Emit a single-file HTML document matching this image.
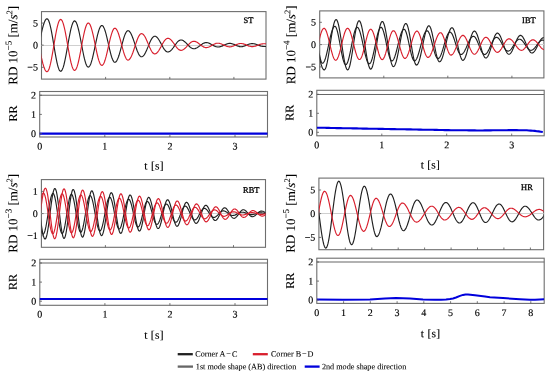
<!DOCTYPE html>
<html><head><meta charset="utf-8"><title>Figure</title>
<style>
html,body{margin:0;padding:0;background:#fff;}
body{width:550px;height:375px;overflow:hidden;}
svg{display:block;}
text{font-family:"Liberation Serif","Times New Roman",serif;fill:#000;stroke:#000;stroke-width:0.15px;}
</style></head><body>
<svg width="550" height="375" viewBox="0 0 550 375">
<defs><clipPath id="c1"><rect x="41.5" y="11.6" width="224.5" height="67.5"/></clipPath><clipPath id="c2"><rect x="39.7" y="91.5" width="227.8" height="45.5"/></clipPath><clipPath id="c3"><rect x="319.7" y="10.9" width="224.2" height="67"/></clipPath><clipPath id="c4"><rect x="316.8" y="90.3" width="227.4" height="45.5"/></clipPath><clipPath id="c5"><rect x="41.4" y="179.6" width="224.1" height="67.7"/></clipPath><clipPath id="c6"><rect x="39.8" y="259.3" width="227.7" height="46"/></clipPath><clipPath id="c7"><rect x="318.9" y="178.1" width="224.7" height="71.6"/></clipPath><clipPath id="c8"><rect x="316.8" y="258.2" width="227.4" height="45.2"/></clipPath></defs>
<rect width="550" height="375" fill="#fff"/>
<rect x="41.5" y="11.6" width="224.5" height="67.5" fill="none" stroke="#6e6e6e" stroke-width="1.1"/>
<line x1="41.5" y1="45.5" x2="266" y2="45.5" stroke="#cfcfcf" stroke-width="1"/>
<polyline points="40.5,37.4 41,34.9 41.5,32.6 42,30.4 42.5,28.4 43,26.5 43.5,24.7 44,23.2 44.5,21.9 45,20.8 45.5,19.9 46,19.3 46.5,18.9 47,18.8 47.5,19 48,19.5 48.5,20.3 49,21.5 49.5,23 50,24.8 50.5,26.9 51,29.2 51.5,31.7 52,34.3 52.5,37.2 53,40.1 53.5,43.1 54,46.1 54.5,49.1 55,52.1 55.5,54.9 56,57.6 56.5,60.2 57,62.6 57.5,64.7 58,66.6 58.5,68.2 59,69.4 59.5,70.4 60,71 60.5,71.3 61,71.2 61.5,70.8 62,70.1 62.5,69.1 63,67.9 63.5,66.3 64,64.5 64.5,62.4 65,60.1 65.5,57.7 66,55.1 66.5,52.4 67,49.6 67.5,46.8 68,44 68.5,41.2 69,38.4 69.5,35.8 70,33.3 70.5,30.9 71,28.7 71.5,26.8 72,25.1 72.5,23.7 73,22.5 73.5,21.7 74,21.1 74.5,20.9 75,21 75.5,21.4 76,22.1 76.5,23.1 77,24.3 77.5,25.8 78,27.6 78.5,29.5 79,31.7 79.5,34 80,36.5 80.5,39 81,41.6 81.5,44.3 82,46.9 82.5,49.5 83,52 83.5,54.5 84,56.8 84.5,58.9 85,60.8 85.5,62.5 86,64 86.5,65.2 87,66.1 87.5,66.7 88,67 88.5,67.1 89,66.8 89.5,66.3 90,65.5 90.5,64.5 91,63.2 91.5,61.6 92,59.9 92.5,58 93,55.9 93.5,53.7 94,51.4 94.5,49.1 95,46.7 95.5,44.3 96,41.9 96.5,39.6 97,37.3 97.5,35.2 98,33.3 98.5,31.5 99,29.9 99.5,28.5 100,27.4 100.5,26.5 101,25.9 101.5,25.6 102,25.5 102.5,25.7 103,26.2 103.5,26.9 104,27.9 104.5,29.1 105,30.5 105.5,32.2 106,33.9 106.5,35.9 107,37.9 107.5,40.1 108,42.2 108.5,44.5 109,46.7 109.5,48.8 110,50.9 110.5,52.9 111,54.8 111.5,56.5 112,58 112.5,59.3 113,60.4 113.5,61.3 114,61.9 114.5,62.2 115,62.3 115.5,62.1 116,61.8 116.5,61.2 117,60.3 117.5,59.3 118,58.1 118.5,56.8 119,55.3 119.5,53.6 120,51.9 120.5,50.1 121,48.2 121.5,46.3 122,44.4 122.5,42.6 123,40.8 123.5,39 124,37.4 124.5,35.9 125,34.6 125.5,33.5 126,32.5 126.5,31.7 127,31.2 127.5,30.8 128,30.7 128.5,30.8 129,31 129.5,31.5 130,32.1 130.5,32.8 131,33.7 131.5,34.8 132,35.9 132.5,37.2 133,38.5 133.5,39.9 134,41.4 134.5,42.9 135,44.4 135.5,45.9 136,47.4 136.5,48.8 137,50.2 137.5,51.5 138,52.6 138.5,53.7 139,54.6 139.5,55.4 140,56 140.5,56.4 141,56.7 141.5,56.8 142,56.7 142.5,56.5 143,56.2 143.5,55.7 144,55.1 144.5,54.4 145,53.5 145.5,52.6 146,51.5 146.5,50.4 147,49.3 147.5,48.1 148,46.9 148.5,45.6 149,44.4 149.5,43.2 150,42.1 150.5,41 151,40 151.5,39.1 152,38.3 152.5,37.6 153,37.1 153.5,36.7 154,36.4 154.5,36.2 155,36.2 155.5,36.3 156,36.6 156.5,36.9 157,37.3 157.5,37.9 158,38.5 158.5,39.2 159,40 159.5,40.8 160,41.7 160.5,42.6 161,43.5 161.5,44.5 162,45.4 162.5,46.3 163,47.2 163.5,48.1 164,48.9 164.5,49.6 165,50.2 165.5,50.8 166,51.2 166.5,51.6 167,51.8 167.5,52 168,52 168.5,51.9 169,51.8 169.5,51.5 170,51.2 170.5,50.8 171,50.4 171.5,49.8 172,49.3 172.5,48.6 173,48 173.5,47.3 174,46.6 174.5,45.9 175,45.1 175.5,44.4 176,43.8 176.5,43.1 177,42.5 177.5,41.9 178,41.4 178.5,41 179,40.6 179.5,40.4 180,40.2 180.5,40 181,40 181.5,40 182,40.1 182.5,40.3 183,40.5 183.5,40.8 184,41.2 184.5,41.5 185,42 185.5,42.4 186,42.9 186.5,43.4 187,44 187.5,44.5 188,45 188.5,45.5 189,46 189.5,46.5 190,47 190.5,47.4 191,47.7 191.5,48 192,48.3 192.5,48.5 193,48.6 193.5,48.7 194,48.7 194.5,48.7 195,48.6 195.5,48.4 196,48.2 196.5,48 197,47.8 197.5,47.5 198,47.1 198.5,46.8 199,46.4 199.5,46 200,45.7 200.5,45.3 201,44.9 201.5,44.5 202,44.2 202.5,43.8 203,43.5 203.5,43.3 204,43.1 204.5,42.9 205,42.7 205.5,42.6 206,42.6 206.5,42.6 207,42.6 207.5,42.7 208,42.8 208.5,43 209,43.2 209.5,43.4 210,43.6 210.5,43.9 211,44.2 211.5,44.5 212,44.7 212.5,45 213,45.3 213.5,45.6 214,45.9 214.5,46.1 215,46.3 215.5,46.5 216,46.7 216.5,46.8 217,46.9 217.5,47 218,47 218.5,47 219,46.9 219.5,46.9 220,46.8 220.5,46.6 221,46.5 221.5,46.3 222,46.1 222.5,45.9 223,45.6 223.5,45.4 224,45.2 224.5,44.9 225,44.7 225.5,44.5 226,44.2 226.5,44.1 227,43.9 227.5,43.7 228,43.6 228.5,43.5 229,43.4 229.5,43.4 230,43.4 230.5,43.4 231,43.5 231.5,43.6 232,43.7 232.5,43.9 233,44 233.5,44.2 234,44.4 234.5,44.6 235,44.9 235.5,45.1 236,45.3 236.5,45.6 237,45.8 237.5,46 238,46.1 238.5,46.3 239,46.4 239.5,46.6 240,46.6 240.5,46.7 241,46.7 241.5,46.7 242,46.6 242.5,46.6 243,46.5 243.5,46.3 244,46.2 244.5,46 245,45.8 245.5,45.6 246,45.4 246.5,45.2 247,45 247.5,44.7 248,44.5 248.5,44.3 249,44.2 249.5,44 250,43.9 250.5,43.8 251,43.7 251.5,43.6 252,43.6 252.5,43.6 253,43.6 253.5,43.7 254,43.8 254.5,43.9 255,44 255.5,44.1 256,44.3 256.5,44.5 257,44.7 257.5,44.8 258,45 258.5,45.2 259,45.4 259.5,45.6 260,45.8 260.5,45.9 261,46.1 261.5,46.2 262,46.3 262.5,46.4 263,46.4 263.5,46.5 264,46.5 264.5,46.5 265,46.5 265.5,46.4 266,46.3 266.5,46.2 267,46.1" fill="none" stroke="#202020" stroke-width="1.15" stroke-linejoin="round" clip-path="url(#c1)"/>
<polyline points="40.5,53 41,55.5 41.5,57.8 42,60 42.5,62.1 43,64 43.5,65.7 44,67.3 44.5,68.6 45,69.7 45.5,70.6 46,71.2 46.5,71.6 47,71.7 47.5,71.5 48,71 48.5,70.2 49,69 49.5,67.5 50,65.7 50.5,63.7 51,61.4 51.5,58.9 52,56.2 52.5,53.4 53,50.5 53.5,47.5 54,44.5 54.5,41.5 55,38.6 55.5,35.7 56,33 56.5,30.4 57,28.1 57.5,26 58,24.1 58.5,22.5 59,21.3 59.5,20.3 60,19.7 60.5,19.4 61,19.5 61.5,19.9 62,20.6 62.5,21.6 63,22.9 63.5,24.5 64,26.3 64.5,28.4 65,30.7 65.5,33.2 66,35.8 66.5,38.5 67,41.3 67.5,44.2 68,47.1 68.5,49.9 69,52.7 69.5,55.4 70,57.9 70.5,60.3 71,62.5 71.5,64.4 72,66.2 72.5,67.6 73,68.8 73.5,69.6 74,70.2 74.5,70.4 75,70.3 75.5,69.9 76,69.2 76.5,68.2 77,66.9 77.5,65.3 78,63.6 78.5,61.5 79,59.3 79.5,56.9 80,54.4 80.5,51.8 81,49.1 81.5,46.4 82,43.7 82.5,41 83,38.5 83.5,36 84,33.6 84.5,31.4 85,29.5 85.5,27.7 86,26.2 86.5,25 87,24 87.5,23.4 88,23.1 88.5,23 89,23.3 89.5,23.8 90,24.6 90.5,25.7 91,27 91.5,28.6 92,30.3 92.5,32.3 93,34.4 93.5,36.6 94,39 94.5,41.4 95,43.8 95.5,46.3 96,48.7 96.5,51.1 97,53.4 97.5,55.5 98,57.5 98.5,59.3 99,60.9 99.5,62.3 100,63.5 100.5,64.4 101,65 101.5,65.3 102,65.4 102.5,65.2 103,64.7 103.5,64 104,63 104.5,61.7 105,60.3 105.5,58.7 106,56.9 106.5,54.9 107,52.8 107.5,50.7 108,48.5 108.5,46.2 109,44 109.5,41.8 110,39.7 110.5,37.7 111,35.8 111.5,34.1 112,32.6 112.5,31.2 113,30.1 113.5,29.2 114,28.6 114.5,28.3 115,28.2 115.5,28.4 116,28.8 116.5,29.4 117,30.2 117.5,31.2 118,32.4 118.5,33.8 119,35.3 119.5,37 120,38.7 120.5,40.5 121,42.4 121.5,44.3 122,46.2 122.5,48.1 123,49.9 123.5,51.7 124,53.3 124.5,54.8 125,56.1 125.5,57.3 126,58.3 126.5,59.1 127,59.6 127.5,60 128,60.1 128.5,60 129,59.7 129.5,59.3 130,58.7 130.5,57.9 131,57 131.5,56 132,54.8 132.5,53.5 133,52.2 133.5,50.7 134,49.2 134.5,47.7 135,46.2 135.5,44.6 136,43.1 136.5,41.7 137,40.3 137.5,39 138,37.8 138.5,36.8 139,35.8 139.5,35.1 140,34.4 140.5,34 141,33.7 141.5,33.6 142,33.7 142.5,33.9 143,34.2 143.5,34.7 144,35.3 144.5,36 145,36.8 145.5,37.8 146,38.8 146.5,39.9 147,41 147.5,42.2 148,43.4 148.5,44.6 149,45.8 149.5,47 150,48.1 150.5,49.1 151,50.1 151.5,51 152,51.8 152.5,52.5 153,53 153.5,53.5 154,53.7 154.5,53.9 155,53.9 155.5,53.8 156,53.6 156.5,53.2 157,52.8 157.5,52.3 158,51.6 158.5,51 159,50.2 159.5,49.4 160,48.5 160.5,47.6 161,46.7 161.5,45.7 162,44.8 162.5,43.9 163,43 163.5,42.2 164,41.4 164.5,40.7 165,40.1 165.5,39.5 166,39.1 166.5,38.7 167,38.5 167.5,38.3 168,38.3 168.5,38.4 169,38.5 169.5,38.8 170,39.1 170.5,39.5 171,39.9 171.5,40.5 172,41 172.5,41.7 173,42.3 173.5,43 174,43.7 174.5,44.4 175,45.2 175.5,45.9 176,46.5 176.5,47.2 177,47.8 177.5,48.4 178,48.9 178.5,49.3 179,49.7 179.5,49.9 180,50.1 180.5,50.3 181,50.3 181.5,50.3 182,50.2 182.5,50 183,49.7 183.5,49.5 184,49.1 184.5,48.7 185,48.3 185.5,47.8 186,47.3 186.5,46.8 187,46.2 187.5,45.7 188,45.1 188.5,44.6 189,44.1 189.5,43.6 190,43.1 190.5,42.7 191,42.3 191.5,42 192,41.7 192.5,41.5 193,41.4 193.5,41.3 194,41.3 194.5,41.3 195,41.4 195.5,41.6 196,41.8 196.5,42 197,42.3 197.5,42.6 198,42.9 198.5,43.3 199,43.7 199.5,44.1 200,44.5 200.5,44.8 201,45.2 201.5,45.6 202,46 202.5,46.3 203,46.6 203.5,46.9 204,47.1 204.5,47.3 205,47.5 205.5,47.6 206,47.6 206.5,47.6 207,47.5 207.5,47.5 208,47.3 208.5,47.2 209,47 209.5,46.8 210,46.5 210.5,46.2 211,45.9 211.5,45.6 212,45.3 212.5,45 213,44.7 213.5,44.5 214,44.2 214.5,44 215,43.7 215.5,43.6 216,43.4 216.5,43.3 217,43.2 217.5,43.2 218,43.2 218.5,43.2 219,43.3 219.5,43.4 220,43.5 220.5,43.7 221,43.8 221.5,44 222,44.2 222.5,44.5 223,44.7 223.5,44.9 224,45.1 224.5,45.4 225,45.6 225.5,45.8 226,46 226.5,46.2 227,46.4 227.5,46.5 228,46.6 228.5,46.7 229,46.8 229.5,46.8 230,46.8 230.5,46.8 231,46.7 231.5,46.6 232,46.5 232.5,46.3 233,46.2 233.5,46 234,45.7 234.5,45.5 235,45.3 235.5,45.1 236,44.8 236.5,44.6 237,44.4 237.5,44.2 238,44 238.5,43.8 239,43.7 239.5,43.6 240,43.5 240.5,43.5 241,43.5 241.5,43.5 242,43.6 242.5,43.7 243,43.8 243.5,43.9 244,44.1 244.5,44.3 245,44.4 245.5,44.6 246,44.9 246.5,45.1 247,45.3 247.5,45.5 248,45.7 248.5,45.9 249,46.1 249.5,46.2 250,46.3 250.5,46.4 251,46.5 251.5,46.6 252,46.6 252.5,46.6 253,46.6 253.5,46.5 254,46.4 254.5,46.3 255,46.2 255.5,46.1 256,45.9 256.5,45.7 257,45.5 257.5,45.4 258,45.2 258.5,45 259,44.8 259.5,44.6 260,44.4 260.5,44.3 261,44.1 261.5,44 262,43.9 262.5,43.8 263,43.8 263.5,43.7 264,43.7 264.5,43.7 265,43.7 265.5,43.8 266,43.9 266.5,44 267,44.1" fill="none" stroke="#d81e2c" stroke-width="1.15" stroke-linejoin="round" clip-path="url(#c1)"/>
<text x="243.6" y="23.1" font-size="8.4" text-anchor="start" transform="rotate(0.05 243.6 23.1)" style="stroke-width:0.3px">ST</text>
<line x1="41.5" y1="23.1" x2="43.7" y2="23.1" stroke="#555" stroke-width="0.8"/>
<text x="37.9" y="26.4" font-size="10" text-anchor="end" transform="rotate(0.05 37.9 26.4)">5</text>
<line x1="41.5" y1="45.1" x2="43.7" y2="45.1" stroke="#555" stroke-width="0.8"/>
<text x="37.9" y="48.4" font-size="10" text-anchor="end" transform="rotate(0.05 37.9 48.4)">0</text>
<line x1="41.5" y1="67.3" x2="43.7" y2="67.3" stroke="#555" stroke-width="0.8"/>
<text x="37.9" y="70.6" font-size="10" text-anchor="end" transform="rotate(0.05 37.9 70.6)">&#8722;5</text>
<line x1="105.6" y1="79.1" x2="105.6" y2="76.9" stroke="#555" stroke-width="0.8"/>
<line x1="169.8" y1="79.1" x2="169.8" y2="76.9" stroke="#555" stroke-width="0.8"/>
<line x1="233.9" y1="79.1" x2="233.9" y2="76.9" stroke="#555" stroke-width="0.8"/>
<text transform="translate(17.2,45.3) rotate(-89.95)" font-size="13" text-anchor="middle" style="stroke-width:0.06px">RD 10<tspan font-size="9" dy="-5.8">&#8722;5</tspan><tspan dy="5.8"> [m/</tspan><tspan font-style="italic">s</tspan><tspan font-size="8.5" dy="-5">2</tspan><tspan dy="5">]</tspan></text>
<rect x="39.7" y="91.5" width="227.8" height="45.5" fill="none" stroke="#6e6e6e" stroke-width="1.1"/>
<line x1="39.7" y1="95.2" x2="267.5" y2="95.2" stroke="#666666" stroke-width="1.05"/>
<line x1="39.7" y1="133.6" x2="267.5" y2="133.6" stroke="#0000dc" stroke-width="2.4"/>
<line x1="39.7" y1="95.2" x2="41.9" y2="95.2" stroke="#555" stroke-width="0.8"/>
<text x="36.1" y="98.5" font-size="10" text-anchor="end" transform="rotate(0.05 36.1 98.5)">2</text>
<line x1="39.7" y1="114.4" x2="41.9" y2="114.4" stroke="#555" stroke-width="0.8"/>
<text x="36.1" y="117.7" font-size="10" text-anchor="end" transform="rotate(0.05 36.1 117.7)">1</text>
<line x1="39.7" y1="133.6" x2="41.9" y2="133.6" stroke="#555" stroke-width="0.8"/>
<text x="36.1" y="136.9" font-size="10" text-anchor="end" transform="rotate(0.05 36.1 136.9)">0</text>
<text x="39.7" y="149.4" font-size="10" text-anchor="middle" transform="rotate(0.05 39.7 149.4)">0</text>
<line x1="104.8" y1="137" x2="104.8" y2="134.8" stroke="#555" stroke-width="0.8"/>
<text x="104.8" y="149.4" font-size="10" text-anchor="middle" transform="rotate(0.05 104.8 149.4)">1</text>
<line x1="169.9" y1="137" x2="169.9" y2="134.8" stroke="#555" stroke-width="0.8"/>
<text x="169.9" y="149.4" font-size="10" text-anchor="middle" transform="rotate(0.05 169.9 149.4)">2</text>
<line x1="235" y1="137" x2="235" y2="134.8" stroke="#555" stroke-width="0.8"/>
<text x="235" y="149.4" font-size="10" text-anchor="middle" transform="rotate(0.05 235 149.4)">3</text>
<text transform="translate(16.9,113.5) rotate(-89.95)" font-size="12" text-anchor="middle" style="stroke-width:0.06px">RR</text>
<text x="154.1" y="169.6" font-size="11.5" text-anchor="middle" transform="rotate(0.05 154.1 169.6)" letter-spacing="0.25">t [s]</text>
<rect x="319.7" y="10.9" width="224.2" height="67" fill="none" stroke="#6e6e6e" stroke-width="1.1"/>
<line x1="319.7" y1="44.5" x2="543.9" y2="44.5" stroke="#cfcfcf" stroke-width="1"/>
<polyline points="318.7,50.6 319.2,53.3 319.7,55.9 320.2,58.2 320.7,60.1 321.2,61.5 321.7,62.6 322.2,63.1 322.7,63.2 323.2,62.9 323.7,62.3 324.2,61.5 324.7,60.4 325.2,59 325.7,57.4 326.2,55.6 326.7,53.6 327.2,51.4 327.7,49.2 328.2,46.9 328.7,44.5 329.2,42.2 329.7,39.9 330.2,37.6 330.7,35.5 331.2,33.6 331.7,31.8 332.2,30.2 332.7,28.9 333.2,27.8 333.7,27 334.2,26.5 334.7,26.3 335.2,26.4 335.7,26.9 336.2,27.8 336.7,29.1 337.2,30.7 337.7,32.6 338.2,34.8 338.7,37.2 339.2,39.8 339.7,42.5 340.2,45.2 340.7,48 341.2,50.7 341.7,53.3 342.2,55.7 342.7,58 343.2,59.9 343.7,61.6 344.2,62.9 344.7,63.9 345.2,64.5 345.7,64.7 346.2,64.5 346.7,64 347.2,63.2 347.7,62 348.2,60.5 348.7,58.8 349.2,56.8 349.7,54.6 350.2,52.3 350.7,49.8 351.2,47.3 351.7,44.7 352.2,42.2 352.7,39.7 353.2,37.4 353.7,35.2 354.2,33.2 354.7,31.5 355.2,30 355.7,28.8 356.2,28 356.7,27.5 357.2,27.3 357.7,27.5 358.2,27.9 358.7,28.7 359.2,29.7 359.7,31 360.2,32.6 360.7,34.3 361.2,36.3 361.7,38.4 362.2,40.6 362.7,43 363.2,45.3 363.7,47.7 364.2,50 364.7,52.3 365.2,54.4 365.7,56.4 366.2,58.2 366.7,59.8 367.2,61.2 367.7,62.2 368.2,63.1 368.7,63.6 369.2,63.8 369.7,63.7 370.2,63.3 370.7,62.5 371.2,61.5 371.7,60.1 372.2,58.5 372.7,56.7 373.2,54.7 373.7,52.5 374.2,50.2 374.7,47.7 375.2,45.3 375.7,42.9 376.2,40.5 376.7,38.2 377.2,36 377.7,34 378.2,32.2 378.7,30.7 379.2,29.4 379.7,28.4 380.2,27.7 380.7,27.4 381.2,27.3 381.7,27.6 382.2,28.3 382.7,29.3 383.2,30.6 383.7,32.1 384.2,34 384.7,36 385.2,38.2 385.7,40.5 386.2,42.9 386.7,45.3 387.2,47.7 387.7,50 388.2,52.2 388.7,54.2 389.2,56.1 389.7,57.6 390.2,58.9 390.7,59.9 391.2,60.6 391.7,60.9 392.2,60.9 392.7,60.6 393.2,60 393.7,59.2 394.2,58.2 394.7,56.9 395.2,55.4 395.7,53.8 396.2,52 396.7,50.1 397.2,48.1 397.7,46.1 398.2,44 398.7,42 399.2,40 399.7,38.1 400.2,36.3 400.7,34.7 401.2,33.2 401.7,31.9 402.2,30.9 402.7,30.1 403.2,29.5 403.7,29.2 404.2,29.2 404.7,29.5 405.2,30.2 405.7,31.2 406.2,32.5 406.7,34.1 407.2,35.9 407.7,38 408.2,40.2 408.7,42.5 409.2,44.8 409.7,47.2 410.2,49.5 410.7,51.7 411.2,53.8 411.7,55.7 412.2,57.3 412.7,58.7 413.2,59.7 413.7,60.4 414.2,60.8 414.7,60.9 415.2,60.7 415.7,60.2 416.2,59.5 416.7,58.7 417.2,57.6 417.7,56.3 418.2,54.8 418.7,53.2 419.2,51.5 419.7,49.7 420.2,47.9 420.7,46 421.2,44.1 421.7,42.2 422.2,40.4 422.7,38.7 423.2,37.1 423.7,35.6 424.2,34.3 424.7,33.2 425.2,32.2 425.7,31.5 426.2,31 426.7,30.7 427.2,30.7 427.7,31 428.2,31.5 428.7,32.3 429.2,33.4 429.7,34.6 430.2,36.1 430.7,37.8 431.2,39.6 431.7,41.5 432.2,43.5 432.7,45.4 433.2,47.4 433.7,49.3 434.2,51.2 434.7,52.8 435.2,54.4 435.7,55.7 436.2,56.8 436.7,57.6 437.2,58.2 437.7,58.5 438.2,58.6 438.7,58.4 439.2,58 439.7,57.3 440.2,56.5 440.7,55.4 441.2,54.2 441.7,52.9 442.2,51.4 442.7,49.8 443.2,48.1 443.7,46.4 444.2,44.7 444.7,42.9 445.2,41.3 445.7,39.6 446.2,38.1 446.7,36.7 447.2,35.5 447.7,34.4 448.2,33.5 448.7,32.9 449.2,32.4 449.7,32.1 450.2,32.1 450.7,32.3 451.2,32.8 451.7,33.4 452.2,34.2 452.7,35.3 453.2,36.5 453.7,37.8 454.2,39.2 454.7,40.8 455.2,42.3 455.7,43.9 456.2,45.5 456.7,47.1 457.2,48.5 457.7,49.9 458.2,51.1 458.7,52.2 459.2,53.1 459.7,53.7 460.2,54.2 460.7,54.5 461.2,54.5 461.7,54.4 462.2,54.1 462.7,53.7 463.2,53.1 463.7,52.5 464.2,51.7 464.7,50.8 465.2,49.8 465.7,48.8 466.2,47.7 466.7,46.5 467.2,45.4 467.7,44.3 468.2,43.1 468.7,42 469.2,41 469.7,40 470.2,39.1 470.7,38.3 471.2,37.7 471.7,37.1 472.2,36.7 472.7,36.4 473.2,36.3 473.7,36.3 474.2,36.5 474.7,36.9 475.2,37.4 475.7,38.1 476.2,39 476.7,39.9 477.2,41 477.7,42.2 478.2,43.4 478.7,44.6 479.2,45.9 479.7,47.2 480.2,48.4 480.7,49.6 481.2,50.7 481.7,51.7 482.2,52.5 482.7,53.2 483.2,53.8 483.7,54.2 484.2,54.4 484.7,54.5 485.2,54.4 485.7,54.1 486.2,53.7 486.7,53.2 487.2,52.6 487.7,51.8 488.2,50.9 488.7,49.9 489.2,48.9 489.7,47.8 490.2,46.7 490.7,45.6 491.2,44.4 491.7,43.3 492.2,42.3 492.7,41.3 493.2,40.4 493.7,39.5 494.2,38.8 494.7,38.3 495.2,37.8 495.7,37.5 496.2,37.3 496.7,37.3 497.2,37.4 497.7,37.7 498.2,38 498.7,38.5 499.2,39.1 499.7,39.8 500.2,40.5 500.7,41.4 501.2,42.2 501.7,43.2 502.2,44.1 502.7,45 503.2,46 503.7,46.9 504.2,47.7 504.7,48.5 505.2,49.2 505.7,49.8 506.2,50.3 506.7,50.7 507.2,50.9 507.7,51.1 508.2,51.1 508.7,51 509.2,50.8 509.7,50.5 510.2,50.1 510.7,49.6 511.2,49 511.7,48.3 512.2,47.6 512.7,46.8 513.2,46 513.7,45.2 514.2,44.4 514.7,43.6 515.2,42.9 515.7,42.1 516.2,41.5 516.7,40.9 517.2,40.3 517.7,39.9 518.2,39.6 518.7,39.3 519.2,39.2 519.7,39.2 520.2,39.3 520.7,39.5 521.2,39.8 521.7,40.2 522.2,40.6 522.7,41.2 523.2,41.8 523.7,42.5 524.2,43.2 524.7,43.9 525.2,44.7 525.7,45.4 526.2,46.2 526.7,46.9 527.2,47.6 527.7,48.2 528.2,48.8 528.7,49.2 529.2,49.6 529.7,50 530.2,50.2 530.7,50.3 531.2,50.3 531.7,50.2 532.2,50 532.7,49.8 533.2,49.4 533.7,49 534.2,48.5 534.7,47.9 535.2,47.3 535.7,46.6 536.2,46 536.7,45.3 537.2,44.6 537.7,43.9 538.2,43.2 538.7,42.6 539.2,42 539.7,41.5 540.2,41.1 540.7,40.7 541.2,40.4 541.7,40.2 542.2,40.1 542.7,40.1 543.2,40.2 543.7,40.3 544.2,40.6 544.7,40.8" fill="none" stroke="#202020" stroke-width="1.15" stroke-linejoin="round" clip-path="url(#c3)"/>
<polyline points="318.7,53.3 319.2,55.8 319.7,58.3 320.2,60.6 320.7,62.6 321.2,64.5 321.7,66.1 322.2,67.4 322.7,68.5 323.2,69.3 323.7,69.7 324.2,69.9 324.7,69.7 325.2,69 325.7,68 326.2,66.5 326.7,64.6 327.2,62.4 327.7,59.9 328.2,57.1 328.7,54.1 329.2,51 329.7,47.7 330.2,44.4 330.7,41.1 331.2,37.9 331.7,34.7 332.2,31.8 332.7,29.1 333.2,26.6 333.7,24.5 334.2,22.7 334.7,21.3 335.2,20.3 335.7,19.7 336.2,19.6 336.7,19.9 337.2,20.7 337.7,22 338.2,23.6 338.7,25.7 339.2,28.1 339.7,30.8 340.2,33.8 340.7,37 341.2,40.3 341.7,43.7 342.2,47.2 342.7,50.5 343.2,53.8 343.7,56.9 344.2,59.8 344.7,62.4 345.2,64.7 345.7,66.6 346.2,68.1 346.7,69.1 347.2,69.7 347.7,69.9 348.2,69.6 348.7,68.8 349.2,67.6 349.7,66 350.2,64 350.7,61.6 351.2,59 351.7,56 352.2,52.9 352.7,49.7 353.2,46.4 353.7,43 354.2,39.7 354.7,36.5 355.2,33.5 355.7,30.6 356.2,28.1 356.7,25.9 357.2,24 357.7,22.6 358.2,21.5 358.7,20.9 359.2,20.8 359.7,21.1 360.2,21.9 360.7,23 361.2,24.6 361.7,26.5 362.2,28.8 362.7,31.4 363.2,34.2 363.7,37.2 364.2,40.4 364.7,43.6 365.2,46.9 365.7,50.1 366.2,53.3 366.7,56.3 367.2,59 367.7,61.6 368.2,63.8 368.7,65.6 369.2,67.1 369.7,68.2 370.2,68.9 370.7,69.1 371.2,68.9 371.7,68.2 372.2,67.2 372.7,65.7 373.2,63.9 373.7,61.7 374.2,59.2 374.7,56.4 375.2,53.5 375.7,50.4 376.2,47.2 376.7,44 377.2,40.8 377.7,37.7 378.2,34.7 378.7,31.9 379.2,29.4 379.7,27.2 380.2,25.2 380.7,23.7 381.2,22.5 381.7,21.8 382.2,21.5 382.7,21.6 383.2,22.2 383.7,23.2 384.2,24.7 384.7,26.5 385.2,28.7 385.7,31.2 386.2,33.9 386.7,36.8 387.2,39.9 387.7,43.1 388.2,46.3 388.7,49.4 389.2,52.5 389.7,55.3 390.2,58 390.7,60.3 391.2,62.4 391.7,64 392.2,65.3 392.7,66.2 393.2,66.6 393.7,66.5 394.2,66.2 394.7,65.5 395.2,64.4 395.7,63.1 396.2,61.5 396.7,59.6 397.2,57.5 397.7,55.2 398.2,52.7 398.7,50.1 399.2,47.5 399.7,44.8 400.2,42.1 400.7,39.4 401.2,36.9 401.7,34.4 402.2,32.2 402.7,30.1 403.2,28.3 403.7,26.7 404.2,25.4 404.7,24.5 405.2,23.8 405.7,23.5 406.2,23.6 406.7,24.1 407.2,25 407.7,26.4 408.2,28.1 408.7,30.3 409.2,32.7 409.7,35.4 410.2,38.2 410.7,41.2 411.2,44.3 411.7,47.4 412.2,50.4 412.7,53.2 413.2,55.9 413.7,58.3 414.2,60.5 414.7,62.2 415.2,63.6 415.7,64.5 416.2,65 416.7,65.1 417.2,64.8 417.7,64.2 418.2,63.3 418.7,62.1 419.2,60.7 419.7,59 420.2,57.1 420.7,55 421.2,52.7 421.7,50.4 422.2,47.9 422.7,45.5 423.2,43 423.7,40.5 424.2,38.2 424.7,35.9 425.2,33.8 425.7,31.9 426.2,30.2 426.7,28.8 427.2,27.6 427.7,26.7 428.2,26.1 428.7,25.8 429.2,25.9 429.7,26.3 430.2,27.1 430.7,28.3 431.2,29.8 431.7,31.7 432.2,33.7 432.7,36.1 433.2,38.5 433.7,41.1 434.2,43.8 434.7,46.5 435.2,49.1 435.7,51.5 436.2,53.9 436.7,55.9 437.2,57.8 437.7,59.3 438.2,60.5 438.7,61.3 439.2,61.7 439.7,61.8 440.2,61.5 440.7,61 441.2,60.3 441.7,59.3 442.2,58 442.7,56.6 443.2,54.9 443.7,53.2 444.2,51.2 444.7,49.2 445.2,47.1 445.7,45 446.2,42.8 446.7,40.7 447.2,38.7 447.7,36.7 448.2,34.9 448.7,33.2 449.2,31.8 449.7,30.5 450.2,29.4 450.7,28.6 451.2,28 451.7,27.7 452.2,27.7 452.7,28 453.2,28.7 453.7,29.6 454.2,30.9 454.7,32.4 455.2,34.2 455.7,36.1 456.2,38.3 456.7,40.5 457.2,42.8 457.7,45.2 458.2,47.5 458.7,49.7 459.2,51.9 459.7,53.8 460.2,55.6 460.7,57.1 461.2,58.4 461.7,59.3 462.2,60 462.7,60.3 463.2,60.3 463.7,60 464.2,59.4 464.7,58.6 465.2,57.5 465.7,56.2 466.2,54.8 466.7,53.1 467.2,51.3 467.7,49.4 468.2,47.5 468.7,45.5 469.2,43.5 469.7,41.6 470.2,39.7 470.7,37.9 471.2,36.3 471.7,34.9 472.2,33.7 472.7,32.6 473.2,31.9 473.7,31.4 474.2,31.1 474.7,31.1 475.2,31.4 475.7,31.9 476.2,32.7 476.7,33.7 477.2,34.8 477.7,36.2 478.2,37.7 478.7,39.4 479.2,41.1 479.7,42.9 480.2,44.7 480.7,46.6 481.2,48.4 481.7,50.1 482.2,51.7 482.7,53.2 483.2,54.5 483.7,55.6 484.2,56.6 484.7,57.3 485.2,57.8 485.7,58 486.2,58 486.7,57.7 487.2,57.2 487.7,56.5 488.2,55.6 488.7,54.5 489.2,53.3 489.7,51.9 490.2,50.4 490.7,48.7 491.2,47.1 491.7,45.4 492.2,43.7 492.7,42 493.2,40.4 493.7,38.9 494.2,37.6 494.7,36.3 495.2,35.3 495.7,34.4 496.2,33.8 496.7,33.3 497.2,33.1 497.7,33.1 498.2,33.4 498.7,33.8 499.2,34.3 499.7,35.1 500.2,36 500.7,37.1 501.2,38.3 501.7,39.6 502.2,40.9 502.7,42.4 503.2,43.8 503.7,45.2 504.2,46.6 504.7,48 505.2,49.3 505.7,50.4 506.2,51.5 506.7,52.4 507.2,53.1 507.7,53.6 508.2,54 508.7,54.2 509.2,54.2 509.7,54 510.2,53.6 510.7,53.1 511.2,52.4 511.7,51.6 512.2,50.7 512.7,49.6 513.2,48.5 513.7,47.3 514.2,46.1 514.7,44.8 515.2,43.5 515.7,42.3 516.2,41.1 516.7,40 517.2,38.9 517.7,38 518.2,37.2 518.7,36.5 519.2,36 519.7,35.6 520.2,35.4 520.7,35.4 521.2,35.6 521.7,35.9 522.2,36.3 522.7,36.9 523.2,37.7 523.7,38.6 524.2,39.5 524.7,40.6 525.2,41.7 525.7,42.9 526.2,44.1 526.7,45.3 527.2,46.5 527.7,47.6 528.2,48.7 528.7,49.7 529.2,50.5 529.7,51.3 530.2,52 530.7,52.5 531.2,52.8 531.7,53 532.2,53 532.7,52.9 533.2,52.6 533.7,52.2 534.2,51.7 534.7,51 535.2,50.3 535.7,49.4 536.2,48.5 536.7,47.5 537.2,46.5 537.7,45.5 538.2,44.4 538.7,43.4 539.2,42.4 539.7,41.5 540.2,40.6 540.7,39.8 541.2,39.2 541.7,38.6 542.2,38.2 542.7,37.9 543.2,37.7 543.7,37.7 544.2,37.8 544.7,38" fill="none" stroke="#202020" stroke-width="1.15" stroke-linejoin="round" clip-path="url(#c3)"/>
<polyline points="318.7,41.9 319.2,39.8 319.7,37.8 320.2,35.9 320.7,34.1 321.2,32.6 321.7,31.2 322.2,30.1 322.7,29.3 323.2,28.7 323.7,28.4 324.2,28.3 324.7,28.6 325.2,29.1 325.7,29.9 326.2,31 326.7,32.3 327.2,33.9 327.7,35.6 328.2,37.4 328.7,39.4 329.2,41.5 329.7,43.7 330.2,45.8 330.7,47.9 331.2,50 331.7,51.9 332.2,53.7 332.7,55.4 333.2,56.8 333.7,58 334.2,59 334.7,59.7 335.2,60.2 335.7,60.3 336.2,60.2 336.7,59.7 337.2,59.1 337.7,58.1 338.2,56.9 338.7,55.5 339.2,53.9 339.7,52.2 340.2,50.3 340.7,48.3 341.2,46.2 341.7,44.1 342.2,42 342.7,39.9 343.2,37.9 343.7,36.1 344.2,34.3 344.7,32.8 345.2,31.4 345.7,30.3 346.2,29.4 346.7,28.7 347.2,28.4 347.7,28.3 348.2,28.5 348.7,29 349.2,29.7 349.7,30.6 350.2,31.8 350.7,33.2 351.2,34.8 351.7,36.6 352.2,38.5 352.7,40.4 353.2,42.5 353.7,44.5 354.2,46.6 354.7,48.6 355.2,50.5 355.7,52.3 356.2,53.9 356.7,55.4 357.2,56.7 357.7,57.8 358.2,58.6 358.7,59.2 359.2,59.5 359.7,59.5 360.2,59.2 360.7,58.6 361.2,57.8 361.7,56.7 362.2,55.4 362.7,53.8 363.2,52 363.7,50.1 364.2,48.1 364.7,46 365.2,43.9 365.7,41.8 366.2,39.7 366.7,37.8 367.2,35.9 367.7,34.3 368.2,32.8 368.7,31.5 369.2,30.5 369.7,29.8 370.2,29.3 370.7,29.2 371.2,29.3 371.7,29.8 372.2,30.5 372.7,31.4 373.2,32.6 373.7,34 374.2,35.6 374.7,37.4 375.2,39.3 375.7,41.3 376.2,43.4 376.7,45.4 377.2,47.5 377.7,49.5 378.2,51.4 378.7,53.2 379.2,54.8 379.7,56.2 380.2,57.4 380.7,58.3 381.2,59 381.7,59.5 382.2,59.6 382.7,59.5 383.2,59 383.7,58.3 384.2,57.4 384.7,56.2 385.2,54.8 385.7,53.2 386.2,51.4 386.7,49.5 387.2,47.6 387.7,45.6 388.2,43.5 388.7,41.5 389.2,39.6 389.7,37.8 390.2,36.1 390.7,34.6 391.2,33.4 391.7,32.3 392.2,31.5 392.7,31 393.2,30.7 393.7,30.7 394.2,31 394.7,31.5 395.2,32.3 395.7,33.3 396.2,34.5 396.7,35.9 397.2,37.4 397.7,39.1 398.2,40.8 398.7,42.7 399.2,44.5 399.7,46.4 400.2,48.3 400.7,50 401.2,51.7 401.7,53.2 402.2,54.6 402.7,55.8 403.2,56.8 403.7,57.6 404.2,58.1 404.7,58.4 405.2,58.4 405.7,58.2 406.2,57.7 406.7,57 407.2,56.2 407.7,55.1 408.2,53.8 408.7,52.4 409.2,50.8 409.7,49.2 410.2,47.4 410.7,45.7 411.2,43.8 411.7,42.1 412.2,40.3 412.7,38.7 413.2,37.1 413.7,35.7 414.2,34.4 414.7,33.3 415.2,32.5 415.7,31.8 416.2,31.3 416.7,31.1 417.2,31.1 417.7,31.4 418.2,32 418.7,32.8 419.2,33.8 419.7,35 420.2,36.4 420.7,38 421.2,39.7 421.7,41.5 422.2,43.3 422.7,45.2 423.2,47 423.7,48.8 424.2,50.5 424.7,52.1 425.2,53.5 425.7,54.7 426.2,55.7 426.7,56.5 427.2,57.1 427.7,57.4 428.2,57.4 428.7,57.2 429.2,56.8 429.7,56.3 430.2,55.6 430.7,54.7 431.2,53.6 431.7,52.4 432.2,51.1 432.7,49.7 433.2,48.3 433.7,46.8 434.2,45.2 434.7,43.7 435.2,42.1 435.7,40.6 436.2,39.2 436.7,37.9 437.2,36.7 437.7,35.6 438.2,34.7 438.7,33.9 439.2,33.4 439.7,32.9 440.2,32.7 440.7,32.7 441.2,32.9 441.7,33.4 442.2,34.1 442.7,35 443.2,36.2 443.7,37.5 444.2,38.9 444.7,40.4 445.2,42.1 445.7,43.7 446.2,45.4 446.7,47 447.2,48.6 447.7,50.1 448.2,51.4 448.7,52.6 449.2,53.5 449.7,54.3 450.2,54.8 450.7,55.1 451.2,55.1 451.7,54.9 452.2,54.6 452.7,54.1 453.2,53.5 453.7,52.7 454.2,51.8 454.7,50.8 455.2,49.6 455.7,48.4 456.2,47.2 456.7,45.9 457.2,44.6 457.7,43.3 458.2,42.1 458.7,40.9 459.2,39.7 459.7,38.7 460.2,37.8 460.7,37 461.2,36.4 461.7,35.9 462.2,35.6 462.7,35.4 463.2,35.4 463.7,35.6 464.2,36 464.7,36.5 465.2,37.2 465.7,38 466.2,39 466.7,40 467.2,41.2 467.7,42.4 468.2,43.6 468.7,44.9 469.2,46.2 469.7,47.5 470.2,48.7 470.7,49.8 471.2,50.8 471.7,51.8 472.2,52.6 472.7,53.2 473.2,53.7 473.7,54 474.2,54.2 474.7,54.2 475.2,54 475.7,53.7 476.2,53.2 476.7,52.6 477.2,51.8 477.7,51 478.2,50 478.7,49 479.2,47.9 479.7,46.8 480.2,45.6 480.7,44.5 481.2,43.4 481.7,42.3 482.2,41.3 482.7,40.3 483.2,39.5 483.7,38.8 484.2,38.2 484.7,37.7 485.2,37.5 485.7,37.3 486.2,37.3 486.7,37.5 487.2,37.8 487.7,38.2 488.2,38.7 488.7,39.4 489.2,40.1 489.7,41 490.2,41.9 490.7,42.9 491.2,43.9 491.7,44.9 492.2,45.9 492.7,46.9 493.2,47.9 493.7,48.8 494.2,49.6 494.7,50.4 495.2,51 495.7,51.5 496.2,51.9 496.7,52.2 497.2,52.3 497.7,52.3 498.2,52.1 498.7,51.9 499.2,51.5 499.7,51 500.2,50.4 500.7,49.7 501.2,49 501.7,48.2 502.2,47.3 502.7,46.4 503.2,45.5 503.7,44.5 504.2,43.6 504.7,42.8 505.2,42 505.7,41.2 506.2,40.6 506.7,40 507.2,39.5 507.7,39.2 508.2,38.9 508.7,38.8 509.2,38.8 509.7,38.9 510.2,39.1 510.7,39.4 511.2,39.7 511.7,40.2 512.2,40.7 512.7,41.2 513.2,41.8 513.7,42.5 514.2,43.2 514.7,43.9 515.2,44.6 515.7,45.3 516.2,46 516.7,46.7 517.2,47.4 517.7,48 518.2,48.5 518.7,49 519.2,49.4 519.7,49.8 520.2,50 520.7,50.2 521.2,50.3 521.7,50.3 522.2,50.2 522.7,50 523.2,49.7 523.7,49.3 524.2,48.8 524.7,48.3 525.2,47.7 525.7,47.1 526.2,46.4 526.7,45.7 527.2,45 527.7,44.3 528.2,43.6 528.7,42.9 529.2,42.3 529.7,41.7 530.2,41.2 530.7,40.7 531.2,40.4 531.7,40.1 532.2,39.9 532.7,39.8 533.2,39.8 533.7,39.9 534.2,40.1 534.7,40.4 535.2,40.7 535.7,41.1 536.2,41.6 536.7,42.2 537.2,42.8 537.7,43.4 538.2,44 538.7,44.7 539.2,45.4 539.7,46 540.2,46.6 540.7,47.2 541.2,47.8 541.7,48.3 542.2,48.7 542.7,49 543.2,49.3 543.7,49.5 544.2,49.6 544.7,49.6" fill="none" stroke="#d81e2c" stroke-width="1.15" stroke-linejoin="round" clip-path="url(#c3)"/>
<text x="522.1" y="23" font-size="8.4" text-anchor="start" transform="rotate(0.05 522.1 23)" style="stroke-width:0.3px">IBT</text>
<line x1="319.7" y1="22.3" x2="321.9" y2="22.3" stroke="#555" stroke-width="0.8"/>
<text x="316.1" y="25.6" font-size="10" text-anchor="end" transform="rotate(0.05 316.1 25.6)">5</text>
<line x1="319.7" y1="44.6" x2="321.9" y2="44.6" stroke="#555" stroke-width="0.8"/>
<text x="316.1" y="47.9" font-size="10" text-anchor="end" transform="rotate(0.05 316.1 47.9)">0</text>
<line x1="319.7" y1="66.9" x2="321.9" y2="66.9" stroke="#555" stroke-width="0.8"/>
<text x="316.1" y="70.2" font-size="10" text-anchor="end" transform="rotate(0.05 316.1 70.2)">&#8722;5</text>
<line x1="383.8" y1="77.9" x2="383.8" y2="75.7" stroke="#555" stroke-width="0.8"/>
<line x1="447.8" y1="77.9" x2="447.8" y2="75.7" stroke="#555" stroke-width="0.8"/>
<line x1="511.9" y1="77.9" x2="511.9" y2="75.7" stroke="#555" stroke-width="0.8"/>
<text transform="translate(295.2,44.9) rotate(-89.95)" font-size="13" text-anchor="middle" style="stroke-width:0.06px">RD 10<tspan font-size="9" dy="-5.8">&#8722;4</tspan><tspan dy="5.8"> [m/</tspan><tspan font-style="italic">s</tspan><tspan font-size="8.5" dy="-5">2</tspan><tspan dy="5">]</tspan></text>
<rect x="316.8" y="90.3" width="227.4" height="45.5" fill="none" stroke="#6e6e6e" stroke-width="1.1"/>
<polyline points="316.8,94.4 350,94.4 365,94.6 380,94.4 544.2,94.4" fill="none" stroke="#666666" stroke-width="1.05" stroke-linejoin="round" clip-path="url(#c4)"/>
<polyline points="316.8,127.7 318.8,127.7 320.8,127.8 322.8,127.8 324.8,127.8 326.8,127.9 328.8,127.9 330.8,128 332.8,128 334.8,128 336.8,128.1 338.8,128.1 340.8,128.1 342.8,128.2 344.8,128.2 346.8,128.3 348.8,128.3 350.8,128.3 352.8,128.4 354.8,128.4 356.8,128.4 358.8,128.5 360.8,128.5 362.8,128.6 364.8,128.6 366.8,128.6 368.8,128.7 370.8,128.7 372.8,128.7 374.8,128.8 376.8,128.8 378.8,128.9 380.8,128.9 382.8,128.9 384.8,129 386.8,129 388.8,129 390.8,129.1 392.8,129.1 394.8,129.1 396.8,129.2 398.8,129.2 400.8,129.3 402.8,129.3 404.8,129.3 406.8,129.4 408.8,129.4 410.8,129.4 412.8,129.5 414.8,129.5 416.8,129.5 418.8,129.6 420.8,129.6 422.8,129.7 424.8,129.7 426.8,129.7 428.8,129.8 430.8,129.8 432.8,129.8 434.8,129.9 436.8,129.9 438.8,130 440.8,130 442.8,130 444.8,130.1 446.8,130.1 448.8,130.1 450.8,130.2 452.8,130.2 454.8,130.2 456.8,130.2 458.8,130.3 460.8,130.3 462.8,130.3 464.8,130.3 466.8,130.3 468.8,130.4 470.8,130.4 472.8,130.4 474.8,130.4 476.8,130.5 478.8,130.5 480.8,130.5 482.8,130.5 484.8,130.4 486.8,130.4 488.8,130.4 490.8,130.4 492.8,130.3 494.8,130.3 496.8,130.3 498.8,130.3 500.8,130.2 502.8,130.2 504.8,130.2 506.8,130.2 508.8,130.1 510.8,130.1 512.8,130.1 514.8,130.1 516.8,130.1 518.8,130.2 520.8,130.2 522.8,130.2 524.8,130.2 526.8,130.3 528.8,130.5 530.8,130.6 532.8,130.7 534.8,130.9 536.8,131.2 538.8,131.4 540.8,131.7 542.8,132" fill="none" stroke="#0000dc" stroke-width="2.1" stroke-linejoin="round" clip-path="url(#c4)"/>
<line x1="316.8" y1="94.3" x2="319" y2="94.3" stroke="#555" stroke-width="0.8"/>
<text x="313.2" y="97.6" font-size="10" text-anchor="end" transform="rotate(0.05 313.2 97.6)">2</text>
<line x1="316.8" y1="113.3" x2="319" y2="113.3" stroke="#555" stroke-width="0.8"/>
<text x="313.2" y="116.6" font-size="10" text-anchor="end" transform="rotate(0.05 313.2 116.6)">1</text>
<line x1="316.8" y1="132.3" x2="319" y2="132.3" stroke="#555" stroke-width="0.8"/>
<text x="313.2" y="135.6" font-size="10" text-anchor="end" transform="rotate(0.05 313.2 135.6)">0</text>
<text x="316.8" y="148.2" font-size="10" text-anchor="middle" transform="rotate(0.05 316.8 148.2)">0</text>
<line x1="381.8" y1="135.8" x2="381.8" y2="133.6" stroke="#555" stroke-width="0.8"/>
<text x="381.8" y="148.2" font-size="10" text-anchor="middle" transform="rotate(0.05 381.8 148.2)">1</text>
<line x1="446.7" y1="135.8" x2="446.7" y2="133.6" stroke="#555" stroke-width="0.8"/>
<text x="446.7" y="148.2" font-size="10" text-anchor="middle" transform="rotate(0.05 446.7 148.2)">2</text>
<line x1="511.7" y1="135.8" x2="511.7" y2="133.6" stroke="#555" stroke-width="0.8"/>
<text x="511.7" y="148.2" font-size="10" text-anchor="middle" transform="rotate(0.05 511.7 148.2)">3</text>
<text transform="translate(293.4,112.7) rotate(-89.95)" font-size="12" text-anchor="middle" style="stroke-width:0.06px">RR</text>
<text x="430.4" y="168.6" font-size="11.5" text-anchor="middle" transform="rotate(0.05 430.4 168.6)" letter-spacing="0.25">t [s]</text>
<rect x="41.4" y="179.6" width="224.1" height="67.7" fill="none" stroke="#6e6e6e" stroke-width="1.1"/>
<line x1="41.4" y1="213.5" x2="265.5" y2="213.5" stroke="#cfcfcf" stroke-width="1"/>
<polyline points="40.4,227.8 40.9,229.8 41.4,231.5 41.9,232.8 42.4,233.7 42.9,234.1 43.4,234.1 43.9,233.5 44.4,232.5 44.9,231 45.4,229 45.9,226.7 46.4,224 46.9,221.1 47.4,218 47.9,214.8 48.4,211.5 48.9,208.4 49.4,205.3 49.9,202.5 50.4,199.9 50.9,197.7 51.4,195.9 51.9,194.6 52.4,193.8 52.9,193.4 53.4,193.6 53.9,194.4 54.4,195.7 54.9,197.5 55.4,199.8 55.9,202.5 56.4,205.5 56.9,208.8 57.4,212.2 57.9,215.6 58.4,218.9 58.9,222.1 59.4,225 59.9,227.6 60.4,229.8 60.9,231.5 61.4,232.7 61.9,233.4 62.4,233.4 62.9,232.9 63.4,231.8 63.9,230.2 64.4,228.1 64.9,225.7 65.4,222.8 65.9,219.8 66.4,216.5 66.9,213.2 67.4,209.9 67.9,206.7 68.4,203.7 68.9,201 69.4,198.7 69.9,196.8 70.4,195.5 70.9,194.6 71.4,194.3 71.9,194.6 72.4,195.4 72.9,196.7 73.4,198.5 73.9,200.7 74.4,203.2 74.9,206 75.4,209.1 75.9,212.2 76.4,215.4 76.9,218.5 77.4,221.5 77.9,224.2 78.4,226.7 78.9,228.7 79.4,230.3 79.9,231.5 80.4,232.1 80.9,232.2 81.4,231.8 81.9,230.9 82.4,229.5 82.9,227.7 83.4,225.5 83.9,222.9 84.4,220.1 84.9,217.2 85.4,214.1 85.9,211 86.4,208.1 86.9,205.2 87.4,202.7 87.9,200.4 88.4,198.5 88.9,197.1 89.4,196.1 89.9,195.6 90.4,195.7 90.9,196.2 91.4,197.1 91.9,198.4 92.4,200.1 92.9,202.2 93.4,204.5 93.9,207.1 94.4,209.8 94.9,212.6 95.4,215.4 95.9,218.2 96.4,220.8 96.9,223.3 97.4,225.5 97.9,227.4 98.4,228.9 98.9,230 99.4,230.7 99.9,230.9 100.4,230.7 100.9,230.1 101.4,229 101.9,227.6 102.4,225.9 102.9,223.8 103.4,221.5 103.9,219 104.4,216.3 104.9,213.7 105.4,211 105.9,208.4 106.4,205.9 106.9,203.7 107.4,201.7 107.9,200 108.4,198.7 108.9,197.8 109.4,197.3 109.9,197.3 110.4,197.6 110.9,198.4 111.4,199.6 111.9,201.2 112.4,203.1 112.9,205.3 113.4,207.7 113.9,210.2 114.4,212.8 114.9,215.5 115.4,218 115.9,220.5 116.4,222.7 116.9,224.7 117.4,226.3 117.9,227.6 118.4,228.5 118.9,229 119.4,229 119.9,228.6 120.4,227.8 120.9,226.7 121.4,225.2 121.9,223.3 122.4,221.3 122.9,219 123.4,216.6 123.9,214.2 124.4,211.7 124.9,209.3 125.4,207 125.9,204.9 126.4,203.1 126.9,201.6 127.4,200.4 127.9,199.6 128.4,199.2 128.9,199.2 129.4,199.6 129.9,200.4 130.4,201.5 130.9,203 131.4,204.7 131.9,206.7 132.4,208.9 132.9,211.2 133.4,213.5 133.9,215.8 134.4,218.1 134.9,220.2 135.4,222.1 135.9,223.7 136.4,225.1 136.9,226.1 137.4,226.8 137.9,227.1 138.4,226.9 138.9,226.5 139.4,225.7 139.9,224.5 140.4,223.1 140.9,221.5 141.4,219.6 141.9,217.6 142.4,215.5 142.9,213.3 143.4,211.2 143.9,209.2 144.4,207.3 144.9,205.6 145.4,204.1 145.9,203 146.4,202.1 146.9,201.6 147.4,201.5 147.9,201.7 148.4,202.1 148.9,202.9 149.4,204 149.9,205.3 150.4,206.8 150.9,208.5 151.4,210.3 151.9,212.1 152.4,214 152.9,215.9 153.4,217.7 153.9,219.3 154.4,220.8 154.9,222.1 155.4,223.1 155.9,223.8 156.4,224.3 156.9,224.4 157.4,224.3 157.9,223.8 158.4,223.1 158.9,222.2 159.4,221 159.9,219.7 160.4,218.2 160.9,216.6 161.4,215 161.9,213.3 162.4,211.6 162.9,210 163.4,208.5 163.9,207.2 164.4,206.1 164.9,205.2 165.4,204.5 165.9,204.1 166.4,204 166.9,204.1 167.4,204.5 167.9,205.1 168.4,206 168.9,207 169.4,208.2 169.9,209.6 170.4,211 170.9,212.5 171.4,214.1 171.9,215.5 172.4,217 172.9,218.3 173.4,219.5 173.9,220.5 174.4,221.3 174.9,221.8 175.4,222.2 175.9,222.2 176.4,222.1 176.9,221.7 177.4,221.1 177.9,220.3 178.4,219.3 178.9,218.2 179.4,217 179.9,215.7 180.4,214.4 180.9,213 181.4,211.7 181.9,210.5 182.4,209.3 182.9,208.3 183.4,207.5 183.9,206.8 184.4,206.4 184.9,206.1 185.4,206.1 185.9,206.3 186.4,206.7 186.9,207.2 187.4,207.9 187.9,208.7 188.4,209.7 188.9,210.7 189.4,211.8 189.9,212.9 190.4,214.1 190.9,215.2 191.4,216.2 191.9,217.2 192.4,218.1 192.9,218.8 193.4,219.3 193.9,219.7 194.4,219.9 194.9,220 195.4,219.8 195.9,219.6 196.4,219.1 196.9,218.6 197.4,217.9 197.9,217.1 198.4,216.2 198.9,215.3 199.4,214.4 199.9,213.4 200.4,212.5 200.9,211.6 201.4,210.8 201.9,210.1 202.4,209.4 202.9,208.9 203.4,208.6 203.9,208.4 204.4,208.3 204.9,208.4 205.4,208.6 205.9,209 206.4,209.4 206.9,209.9 207.4,210.5 207.9,211.2 208.4,211.9 208.9,212.7 209.4,213.4 209.9,214.1 210.4,214.9 210.9,215.5 211.4,216.1 211.9,216.6 212.4,217 212.9,217.2 213.4,217.4 213.9,217.4 214.4,217.4 214.9,217.2 215.4,217 215.9,216.6 216.4,216.3 216.9,215.8 217.4,215.3 217.9,214.8 218.4,214.3 218.9,213.7 219.4,213.2 219.9,212.7 220.4,212.2 220.9,211.8 221.4,211.4 221.9,211.2 222.4,211 222.9,210.9 223.4,210.8 223.9,210.9 224.4,211 224.9,211.2 225.4,211.4 225.9,211.7 226.4,212 226.9,212.3 227.4,212.7 227.9,213.1 228.4,213.5 228.9,213.9 229.4,214.2 229.9,214.5 230.4,214.8 230.9,215.1 231.4,215.3 231.9,215.4 232.4,215.5 232.9,215.5 233.4,215.4 233.9,215.4 234.4,215.2 234.9,215.1 235.4,214.9 235.9,214.6 236.4,214.4 236.9,214.1 237.4,213.8 237.9,213.6 238.4,213.3 238.9,213 239.4,212.8 239.9,212.6 240.4,212.4 240.9,212.3 241.4,212.2 241.9,212.2 242.4,212.2 242.9,212.2 243.4,212.3 243.9,212.4 244.4,212.5 244.9,212.7 245.4,212.9 245.9,213.1 246.4,213.3 246.9,213.5 247.4,213.7 247.9,213.9 248.4,214.1 248.9,214.2 249.4,214.4 249.9,214.5 250.4,214.6 250.9,214.6 251.4,214.6 251.9,214.6 252.4,214.6 252.9,214.5 253.4,214.4 253.9,214.3 254.4,214.2 254.9,214 255.4,213.9 255.9,213.7 256.4,213.6 256.9,213.4 257.4,213.3 257.9,213.1 258.4,213 258.9,212.9 259.4,212.9 259.9,212.8 260.4,212.8 260.9,212.8 261.4,212.8 261.9,212.9 262.4,213 262.9,213 263.4,213.1 263.9,213.3 264.4,213.4 264.9,213.5 265.4,213.6 265.9,213.7 266.4,213.9" fill="none" stroke="#202020" stroke-width="1.15" stroke-linejoin="round" clip-path="url(#c5)"/>
<polyline points="40.4,218.1 40.9,221.7 41.4,225.2 41.9,228.4 42.4,231.3 42.9,233.8 43.4,235.8 43.9,237.4 44.4,238.5 44.9,239 45.4,238.9 45.9,238.2 46.4,236.8 46.9,234.9 47.4,232.4 47.9,229.5 48.4,226.1 48.9,222.5 49.4,218.6 49.9,214.6 50.4,210.5 50.9,206.6 51.4,202.8 51.9,199.3 52.4,196.2 52.9,193.5 53.4,191.4 53.9,189.8 54.4,188.8 54.9,188.5 55.4,188.9 55.9,190 56.4,191.7 56.9,194.2 57.4,197.1 57.9,200.6 58.4,204.4 58.9,208.6 59.4,212.8 59.9,217.1 60.4,221.2 60.9,225.2 61.4,228.8 61.9,231.9 62.4,234.5 62.9,236.5 63.4,237.8 63.9,238.4 64.4,238.2 64.9,237.4 65.4,235.8 65.9,233.6 66.4,230.9 66.9,227.6 67.4,223.9 67.9,219.9 68.4,215.8 68.9,211.6 69.4,207.5 69.9,203.5 70.4,199.9 70.9,196.7 71.4,194 71.9,191.8 72.4,190.3 72.9,189.6 73.4,189.5 73.9,190.1 74.4,191.4 74.9,193.3 75.4,195.7 75.9,198.7 76.4,202.1 76.9,205.8 77.4,209.7 77.9,213.7 78.4,217.7 78.9,221.6 79.4,225.2 79.9,228.5 80.4,231.4 80.9,233.7 81.4,235.5 81.9,236.6 82.4,237.1 82.9,236.9 83.4,236.1 83.9,234.6 84.4,232.5 84.9,229.9 85.4,226.9 85.9,223.5 86.4,219.8 86.9,215.9 87.4,212 87.9,208.2 88.4,204.5 88.9,201.1 89.4,198 89.9,195.4 90.4,193.3 90.9,191.9 91.4,191 91.9,190.8 92.4,191.2 92.9,192.2 93.4,193.7 93.9,195.7 94.4,198.2 94.9,201.1 95.4,204.3 95.9,207.7 96.4,211.2 96.9,214.8 97.4,218.4 97.9,221.8 98.4,225 98.9,227.9 99.4,230.5 99.9,232.5 100.4,234.1 100.9,235.1 101.4,235.6 101.9,235.5 102.4,234.8 102.9,233.6 103.4,231.9 103.9,229.8 104.4,227.2 104.9,224.3 105.4,221.1 105.9,217.8 106.4,214.3 106.9,210.9 107.4,207.5 107.9,204.3 108.4,201.4 108.9,198.8 109.4,196.6 109.9,194.8 110.4,193.6 110.9,192.9 111.4,192.7 111.9,193.1 112.4,194 112.9,195.5 113.4,197.5 113.9,199.9 114.4,202.7 114.9,205.7 115.4,209 115.9,212.4 116.4,215.8 116.9,219.1 117.4,222.2 117.9,225.1 118.4,227.7 118.9,229.9 119.4,231.5 119.9,232.7 120.4,233.3 120.9,233.4 121.4,232.9 121.9,231.9 122.4,230.4 122.9,228.5 123.4,226.1 123.9,223.4 124.4,220.5 124.9,217.4 125.4,214.2 125.9,211 126.4,207.9 126.9,204.9 127.4,202.3 127.9,199.9 128.4,198 128.9,196.5 129.4,195.5 129.9,195 130.4,195 130.9,195.6 131.4,196.7 131.9,198.2 132.4,200.1 132.9,202.4 133.4,205.1 133.9,207.9 134.4,210.9 134.9,213.9 135.4,216.9 135.9,219.9 136.4,222.6 136.9,225 137.4,227.1 137.9,228.8 138.4,230.1 138.9,230.8 139.4,231.1 139.9,230.8 140.4,230.1 140.9,229 141.4,227.4 141.9,225.4 142.4,223.1 142.9,220.6 143.4,217.9 143.9,215.1 144.4,212.2 144.9,209.4 145.4,206.8 145.9,204.4 146.4,202.2 146.9,200.4 147.4,199 147.9,198 148.4,197.4 148.9,197.4 149.4,197.8 149.9,198.6 150.4,199.8 150.9,201.4 151.4,203.2 151.9,205.4 152.4,207.8 152.9,210.3 153.4,212.8 153.9,215.4 154.4,217.9 154.9,220.3 155.4,222.5 155.9,224.4 156.4,226 156.9,227.3 157.4,228.1 157.9,228.5 158.4,228.5 158.9,228.1 159.4,227.4 159.9,226.2 160.4,224.7 160.9,223 161.4,221 161.9,218.8 162.4,216.4 162.9,214.1 163.4,211.7 163.9,209.4 164.4,207.2 164.9,205.2 165.4,203.4 165.9,202 166.4,200.9 166.9,200.2 167.4,199.8 167.9,199.8 168.4,200.2 168.9,201 169.4,202.1 169.9,203.5 170.4,205.1 170.9,207 171.4,209 171.9,211.2 172.4,213.4 172.9,215.5 173.4,217.7 173.9,219.7 174.4,221.5 174.9,223 175.4,224.3 175.9,225.3 176.4,226 176.9,226.3 177.4,226.2 177.9,225.8 178.4,225.1 178.9,224.1 179.4,222.8 179.9,221.3 180.4,219.6 180.9,217.8 181.4,215.8 181.9,213.8 182.4,211.9 182.9,209.9 183.4,208.2 183.9,206.6 184.4,205.2 184.9,204 185.4,203.1 185.9,202.6 186.4,202.4 186.9,202.4 187.4,202.8 187.9,203.4 188.4,204.3 188.9,205.4 189.4,206.7 189.9,208.2 190.4,209.7 190.9,211.4 191.4,213.1 191.9,214.8 192.4,216.5 192.9,218 193.4,219.4 193.9,220.7 194.4,221.7 194.9,222.5 195.4,223.1 195.9,223.3 196.4,223.3 196.9,223.1 197.4,222.6 197.9,221.9 198.4,221.1 198.9,220 199.4,218.8 199.9,217.4 200.4,216 200.9,214.6 201.4,213.1 201.9,211.7 202.4,210.3 202.9,209 203.4,207.9 203.9,207 204.4,206.2 204.9,205.7 205.4,205.4 205.9,205.3 206.4,205.4 206.9,205.8 207.4,206.4 207.9,207.1 208.4,208 208.9,209 209.4,210.2 209.9,211.4 210.4,212.6 210.9,213.9 211.4,215.1 211.9,216.3 212.4,217.4 212.9,218.3 213.4,219.1 213.9,219.8 214.4,220.2 214.9,220.4 215.4,220.5 215.9,220.3 216.4,220 216.9,219.5 217.4,218.8 217.9,218.1 218.4,217.2 218.9,216.2 219.4,215.2 219.9,214.1 220.4,213.1 220.9,212.1 221.4,211.1 221.9,210.2 222.4,209.4 222.9,208.8 223.4,208.3 223.9,208 224.4,207.8 224.9,207.8 225.4,208 225.9,208.3 226.4,208.7 226.9,209.3 227.4,210 227.9,210.7 228.4,211.5 228.9,212.4 229.4,213.3 229.9,214.2 230.4,215 230.9,215.8 231.4,216.5 231.9,217.1 232.4,217.6 232.9,218 233.4,218.2 233.9,218.3 234.4,218.3 234.9,218.1 235.4,217.8 235.9,217.4 236.4,216.9 236.9,216.4 237.4,215.7 237.9,215.1 238.4,214.3 238.9,213.6 239.4,212.9 239.9,212.2 240.4,211.6 240.9,211.1 241.4,210.6 241.9,210.2 242.4,209.9 242.9,209.8 243.4,209.7 243.9,209.8 244.4,210 244.9,210.2 245.4,210.6 245.9,211 246.4,211.5 246.9,212.1 247.4,212.7 247.9,213.3 248.4,213.8 248.9,214.4 249.4,215 249.9,215.4 250.4,215.9 250.9,216.2 251.4,216.4 251.9,216.6 252.4,216.7 252.9,216.6 253.4,216.5 253.9,216.3 254.4,216 254.9,215.7 255.4,215.3 255.9,214.9 256.4,214.4 256.9,213.9 257.4,213.4 257.9,213 258.4,212.5 258.9,212.1 259.4,211.8 259.9,211.5 260.4,211.3 260.9,211.1 261.4,211.1 261.9,211.1 262.4,211.2 262.9,211.3 263.4,211.6 263.9,211.8 264.4,212.1 264.9,212.5 265.4,212.9 265.9,213.3 266.4,213.7" fill="none" stroke="#202020" stroke-width="1.15" stroke-linejoin="round" clip-path="url(#c5)"/>
<polyline points="40.4,201.1 40.9,198.8 41.4,196.8 41.9,195.2 42.4,194 42.9,193.3 43.4,193.1 43.9,193.3 44.4,194.1 44.9,195.5 45.4,197.4 45.9,199.7 46.4,202.4 46.9,205.4 47.4,208.7 47.9,212 48.4,215.4 48.9,218.8 49.4,222 49.9,225 50.4,227.6 50.9,229.9 51.4,231.6 51.9,232.9 52.4,233.6 52.9,233.8 53.4,233.4 53.9,232.4 54.4,230.9 54.9,228.9 55.4,226.6 55.9,223.8 56.4,220.8 56.9,217.5 57.4,214.2 57.9,210.8 58.4,207.6 58.9,204.5 59.4,201.6 59.9,199.1 60.4,197.1 60.9,195.5 61.4,194.4 61.9,193.8 62.4,193.8 62.9,194.4 63.4,195.5 63.9,197.1 64.4,199.1 64.9,201.6 65.4,204.3 65.9,207.4 66.4,210.6 66.9,213.8 67.4,217.1 67.9,220.3 68.4,223.2 68.9,225.9 69.4,228.2 69.9,230.1 70.4,231.5 70.9,232.5 71.4,232.8 71.9,232.7 72.4,232 72.9,230.8 73.4,229.1 73.9,227 74.4,224.5 74.9,221.8 75.4,218.8 75.9,215.6 76.4,212.5 76.9,209.3 77.4,206.3 77.9,203.5 78.4,201 78.9,198.9 79.4,197.1 79.9,195.9 80.4,195.2 80.9,194.9 81.4,195.2 81.9,195.9 82.4,197.1 82.9,198.7 83.4,200.6 83.9,202.8 84.4,205.3 84.9,208.1 85.4,210.9 85.9,213.8 86.4,216.7 86.9,219.5 87.4,222.1 87.9,224.5 88.4,226.7 88.9,228.5 89.4,229.9 89.9,230.9 90.4,231.4 90.9,231.5 91.4,231.2 91.9,230.4 92.4,229.2 92.9,227.7 93.4,225.8 93.9,223.5 94.4,221.1 94.9,218.5 95.4,215.7 95.9,212.9 96.4,210.2 96.9,207.5 97.4,205 97.9,202.7 98.4,200.7 98.9,199.1 99.4,197.8 99.9,196.9 100.4,196.4 100.9,196.4 101.4,196.9 101.9,197.8 102.4,199.1 102.9,200.8 103.4,202.9 103.9,205.3 104.4,207.9 104.9,210.6 105.4,213.4 105.9,216.2 106.4,218.9 106.9,221.5 107.4,223.8 107.9,225.8 108.4,227.5 108.9,228.7 109.4,229.6 109.9,229.9 110.4,229.8 110.9,229.2 111.4,228.3 111.9,226.9 112.4,225.2 112.9,223.1 113.4,220.8 113.9,218.3 114.4,215.7 114.9,213 115.4,210.4 115.9,207.9 116.4,205.5 116.9,203.4 117.4,201.6 117.9,200.1 118.4,199.1 118.9,198.4 119.4,198.2 119.9,198.4 120.4,199.1 120.9,200.1 121.4,201.5 121.9,203.2 122.4,205.2 122.9,207.4 123.4,209.8 123.9,212.3 124.4,214.8 124.9,217.2 125.4,219.6 125.9,221.7 126.4,223.7 126.9,225.3 127.4,226.5 127.9,227.4 128.4,227.9 128.9,228 129.4,227.7 129.9,227 130.4,225.9 130.9,224.5 131.4,222.8 131.9,220.9 132.4,218.8 132.9,216.5 133.4,214.2 133.9,211.8 134.4,209.6 134.9,207.4 135.4,205.5 135.9,203.8 136.4,202.4 136.9,201.3 137.4,200.5 137.9,200.2 138.4,200.2 138.9,200.6 139.4,201.3 139.9,202.4 140.4,203.7 140.9,205.3 141.4,207.1 141.9,209.1 142.4,211.1 142.9,213.2 143.4,215.3 143.9,217.4 144.4,219.3 144.9,221 145.4,222.6 145.9,223.8 146.4,224.8 146.9,225.4 147.4,225.7 147.9,225.6 148.4,225.3 148.9,224.6 149.4,223.6 149.9,222.4 150.4,221 150.9,219.4 151.4,217.6 151.9,215.7 152.4,213.8 152.9,212 153.4,210.1 153.9,208.4 154.4,206.9 154.9,205.5 155.4,204.4 155.9,203.6 156.4,203.1 156.9,202.8 157.4,202.9 157.9,203.2 158.4,203.8 158.9,204.7 159.4,205.8 159.9,207.1 160.4,208.5 160.9,210.1 161.4,211.7 161.9,213.4 162.4,215.1 162.9,216.7 163.4,218.2 163.9,219.6 164.4,220.8 164.9,221.8 165.4,222.5 165.9,223 166.4,223.2 166.9,223.2 167.4,222.8 167.9,222.3 168.4,221.5 168.9,220.5 169.4,219.4 169.9,218 170.4,216.6 170.9,215.1 171.4,213.6 171.9,212.1 172.4,210.6 172.9,209.3 173.4,208.1 173.9,207 174.4,206.2 174.9,205.5 175.4,205.1 175.9,205 176.4,205.1 176.9,205.4 177.4,205.9 177.9,206.6 178.4,207.5 178.9,208.5 179.4,209.6 179.9,210.9 180.4,212.2 180.9,213.5 181.4,214.8 181.9,216.1 182.4,217.2 182.9,218.3 183.4,219.2 183.9,220 184.4,220.5 184.9,220.9 185.4,221.1 185.9,221 186.4,220.8 186.9,220.3 187.4,219.8 187.9,219 188.4,218.2 188.9,217.2 189.4,216.1 189.9,215 190.4,213.9 190.9,212.8 191.4,211.7 191.9,210.7 192.4,209.7 192.9,208.9 193.4,208.3 193.9,207.8 194.4,207.4 194.9,207.3 195.4,207.3 195.9,207.5 196.4,207.8 196.9,208.3 197.4,208.9 197.9,209.6 198.4,210.4 198.9,211.2 199.4,212.2 199.9,213.1 200.4,214 200.9,214.9 201.4,215.8 201.9,216.6 202.4,217.3 202.9,217.9 203.4,218.3 203.9,218.6 204.4,218.8 204.9,218.8 205.4,218.7 205.9,218.4 206.4,218.1 206.9,217.7 207.4,217.2 207.9,216.6 208.4,215.9 208.9,215.2 209.4,214.5 209.9,213.8 210.4,213.1 210.9,212.4 211.4,211.8 211.9,211.2 212.4,210.7 212.9,210.4 213.4,210.1 213.9,209.9 214.4,209.9 214.9,209.9 215.4,210 215.9,210.2 216.4,210.5 216.9,210.9 217.4,211.3 217.9,211.8 218.4,212.3 218.9,212.8 219.4,213.4 219.9,213.9 220.4,214.4 220.9,214.9 221.4,215.3 221.9,215.6 222.4,215.9 222.9,216.1 223.4,216.3 223.9,216.3 224.4,216.3 224.9,216.2 225.4,216 225.9,215.8 226.4,215.5 226.9,215.2 227.4,214.9 227.9,214.6 228.4,214.2 228.9,213.8 229.4,213.4 229.9,213.1 230.4,212.8 230.9,212.5 231.4,212.2 231.9,212 232.4,211.9 232.9,211.8 233.4,211.8 233.9,211.8 234.4,211.9 234.9,212 235.4,212.1 235.9,212.3 236.4,212.6 236.9,212.8 237.4,213.1 237.9,213.3 238.4,213.6 238.9,213.9 239.4,214.1 239.9,214.4 240.4,214.6 240.9,214.8 241.4,214.9 241.9,215 242.4,215 242.9,215 243.4,215 243.9,214.9 244.4,214.8 244.9,214.6 245.4,214.5 245.9,214.3 246.4,214.1 246.9,213.9 247.4,213.7 247.9,213.5 248.4,213.3 248.9,213.1 249.4,213 249.9,212.8 250.4,212.7 250.9,212.6 251.4,212.6 251.9,212.6 252.4,212.6 252.9,212.6 253.4,212.7 253.9,212.8 254.4,212.9 254.9,213 255.4,213.2 255.9,213.3 256.4,213.4 256.9,213.6 257.4,213.7 257.9,213.9 258.4,214 258.9,214.1 259.4,214.2 259.9,214.3 260.4,214.3 260.9,214.4 261.4,214.4 261.9,214.3 262.4,214.3 262.9,214.3 263.4,214.2 263.9,214.1 264.4,214 264.9,213.9 265.4,213.8 265.9,213.6 266.4,213.5" fill="none" stroke="#d81e2c" stroke-width="1.15" stroke-linejoin="round" clip-path="url(#c5)"/>
<polyline points="40.4,212.1 40.9,208.3 41.4,204.6 41.9,201.1 42.4,197.9 42.9,195.1 43.4,192.7 43.9,190.8 44.4,189.3 44.9,188.5 45.4,188.2 45.9,188.6 46.4,189.6 46.9,191.4 47.4,193.7 47.9,196.7 48.4,200.1 48.9,203.9 49.4,208 49.9,212.2 50.4,216.4 50.9,220.6 51.4,224.6 51.9,228.2 52.4,231.5 52.9,234.2 53.4,236.3 53.9,237.8 54.4,238.6 54.9,238.7 55.4,238 55.9,236.7 56.4,234.7 56.9,232.1 57.4,229 57.9,225.5 58.4,221.6 58.9,217.5 59.4,213.3 59.9,209.1 60.4,205.1 60.9,201.3 61.4,197.8 61.9,194.8 62.4,192.4 62.9,190.5 63.4,189.3 63.9,188.8 64.4,189 64.9,189.9 65.4,191.5 65.9,193.7 66.4,196.4 66.9,199.6 67.4,203.2 67.9,207.1 68.4,211.2 68.9,215.3 69.4,219.4 69.9,223.3 70.4,226.9 70.9,230.1 71.4,232.9 71.9,235.1 72.4,236.6 72.9,237.5 73.4,237.8 73.9,237.3 74.4,236.1 74.9,234.4 75.4,232 75.9,229.1 76.4,225.8 76.9,222.2 77.4,218.3 77.9,214.3 78.4,210.3 78.9,206.4 79.4,202.7 79.9,199.3 80.4,196.4 80.9,193.9 81.4,192 81.9,190.7 82.4,190.1 82.9,190.2 83.4,190.8 83.9,192 84.4,193.8 84.9,196 85.4,198.7 85.9,201.7 86.4,205.1 86.9,208.6 87.4,212.3 87.9,216 88.4,219.6 88.9,223 89.4,226.2 89.9,229.1 90.4,231.6 90.9,233.6 91.4,235.1 91.9,236 92.4,236.4 92.9,236.1 93.4,235.3 93.9,234 94.4,232.2 94.9,229.9 95.4,227.2 95.9,224.1 96.4,220.8 96.9,217.4 97.4,213.8 97.9,210.3 98.4,206.8 98.9,203.5 99.4,200.5 99.9,197.9 100.4,195.6 100.9,193.8 101.4,192.5 101.9,191.8 102.4,191.6 102.9,192.1 103.4,193.1 103.9,194.7 104.4,196.8 104.9,199.4 105.4,202.3 105.9,205.6 106.4,209.1 106.9,212.7 107.4,216.3 107.9,219.8 108.4,223.1 108.9,226.2 109.4,228.8 109.9,231.1 110.4,232.8 110.9,233.9 111.4,234.4 111.9,234.4 112.4,233.7 112.9,232.6 113.4,230.8 113.9,228.6 114.4,226 114.9,223.1 115.4,219.9 115.9,216.5 116.4,213.1 116.9,209.7 117.4,206.4 117.9,203.4 118.4,200.6 118.9,198.3 119.4,196.3 119.9,194.9 120.4,194.1 120.9,193.8 121.4,194.1 121.9,194.9 122.4,196.2 122.9,198 123.4,200.2 123.9,202.8 124.4,205.7 124.9,208.8 125.4,212 125.9,215.3 126.4,218.5 126.9,221.5 127.4,224.3 127.9,226.7 128.4,228.8 128.9,230.4 129.4,231.5 129.9,232.1 130.4,232.2 130.9,231.7 131.4,230.8 131.9,229.3 132.4,227.5 132.9,225.2 133.4,222.7 133.9,219.9 134.4,216.9 134.9,213.9 135.4,210.9 135.9,207.9 136.4,205.2 136.9,202.7 137.4,200.5 137.9,198.7 138.4,197.4 138.9,196.5 139.4,196.1 139.9,196.3 140.4,196.9 140.9,197.9 141.4,199.4 141.9,201.3 142.4,203.4 142.9,205.9 143.4,208.5 143.9,211.3 144.4,214.1 144.9,216.9 145.4,219.5 145.9,222 146.4,224.3 146.9,226.2 147.4,227.7 147.9,228.9 148.4,229.6 148.9,229.8 149.4,229.6 149.9,229 150.4,227.9 150.9,226.5 151.4,224.7 151.9,222.6 152.4,220.3 152.9,217.8 153.4,215.3 153.9,212.7 154.4,210.1 154.9,207.7 155.4,205.4 155.9,203.4 156.4,201.7 156.9,200.3 157.4,199.3 157.9,198.8 158.4,198.6 158.9,198.9 159.4,199.6 159.9,200.6 160.4,202 160.9,203.7 161.4,205.6 161.9,207.8 162.4,210.1 162.9,212.4 163.4,214.8 163.9,217.2 164.4,219.4 164.9,221.4 165.4,223.2 165.9,224.8 166.4,226 166.9,226.8 167.4,227.3 167.9,227.4 168.4,227.1 168.9,226.5 169.4,225.5 169.9,224.2 170.4,222.6 170.9,220.8 171.4,218.8 171.9,216.7 172.4,214.5 172.9,212.3 173.4,210.2 173.9,208.1 174.4,206.3 174.9,204.6 175.4,203.2 175.9,202.1 176.4,201.4 176.9,201 177.4,201 177.9,201.2 178.4,201.8 178.9,202.7 179.4,203.9 179.9,205.3 180.4,206.8 180.9,208.6 181.4,210.5 181.9,212.4 182.4,214.3 182.9,216.2 183.4,218 183.9,219.7 184.4,221.2 184.9,222.5 185.4,223.5 185.9,224.2 186.4,224.7 186.9,224.8 187.4,224.6 187.9,224.2 188.4,223.5 188.9,222.6 189.4,221.4 189.9,220.1 190.4,218.6 190.9,216.9 191.4,215.3 191.9,213.6 192.4,211.9 192.9,210.3 193.4,208.8 193.9,207.4 194.4,206.2 194.9,205.3 195.4,204.5 195.9,204.1 196.4,203.9 196.9,204 197.4,204.3 197.9,204.8 198.4,205.5 198.9,206.5 199.4,207.6 199.9,208.8 200.4,210.2 200.9,211.6 201.4,213.1 201.9,214.5 202.4,215.9 202.9,217.3 203.4,218.5 203.9,219.5 204.4,220.4 204.9,221.1 205.4,221.6 205.9,221.8 206.4,221.8 206.9,221.6 207.4,221.2 207.9,220.7 208.4,219.9 208.9,219 209.4,218 209.9,216.9 210.4,215.7 210.9,214.5 211.4,213.3 211.9,212.1 212.4,211 212.9,209.9 213.4,209 213.9,208.2 214.4,207.6 214.9,207.1 215.4,206.9 215.9,206.8 216.4,206.9 216.9,207.2 217.4,207.7 217.9,208.3 218.4,209 218.9,209.9 219.4,210.8 219.9,211.8 220.4,212.8 220.9,213.9 221.4,214.9 221.9,215.9 222.4,216.8 222.9,217.6 223.4,218.2 223.9,218.7 224.4,219.1 224.9,219.3 225.4,219.3 225.9,219.2 226.4,218.9 226.9,218.5 227.4,218 227.9,217.3 228.4,216.6 228.9,215.8 229.4,215 229.9,214.1 230.4,213.3 230.9,212.4 231.4,211.6 231.9,210.9 232.4,210.3 232.9,209.8 233.4,209.4 233.9,209.1 234.4,209 234.9,209 235.4,209.1 235.9,209.4 236.4,209.7 236.9,210.2 237.4,210.8 237.9,211.4 238.4,212.1 238.9,212.8 239.4,213.5 239.9,214.2 240.4,214.9 240.9,215.6 241.4,216.1 241.9,216.6 242.4,217 242.9,217.2 243.4,217.4 243.9,217.4 244.4,217.3 244.9,217.2 245.4,216.9 245.9,216.5 246.4,216.1 246.9,215.6 247.4,215.1 247.9,214.5 248.4,213.9 248.9,213.3 249.4,212.8 249.9,212.2 250.4,211.8 250.9,211.4 251.4,211 251.9,210.8 252.4,210.6 252.9,210.6 253.4,210.6 253.9,210.7 254.4,210.9 254.9,211.2 255.4,211.5 255.9,211.9 256.4,212.3 256.9,212.7 257.4,213.2 257.9,213.7 258.4,214.1 258.9,214.6 259.4,215 259.9,215.3 260.4,215.6 260.9,215.8 261.4,216 261.9,216.1 262.4,216.1 262.9,216 263.4,215.9 263.9,215.7 264.4,215.5 264.9,215.2 265.4,214.8 265.9,214.5 266.4,214.1" fill="none" stroke="#d81e2c" stroke-width="1.15" stroke-linejoin="round" clip-path="url(#c5)"/>
<text x="243.1" y="192.7" font-size="8.4" text-anchor="start" transform="rotate(0.05 243.1 192.7)" style="stroke-width:0.3px">RBT</text>
<line x1="41.4" y1="191.4" x2="43.6" y2="191.4" stroke="#555" stroke-width="0.8"/>
<text x="37.8" y="194.7" font-size="10" text-anchor="end" transform="rotate(0.05 37.8 194.7)">1</text>
<line x1="41.4" y1="213.6" x2="43.6" y2="213.6" stroke="#555" stroke-width="0.8"/>
<text x="37.8" y="216.9" font-size="10" text-anchor="end" transform="rotate(0.05 37.8 216.9)">0</text>
<line x1="41.4" y1="235.8" x2="43.6" y2="235.8" stroke="#555" stroke-width="0.8"/>
<text x="37.8" y="239.1" font-size="10" text-anchor="end" transform="rotate(0.05 37.8 239.1)">&#8722;1</text>
<line x1="105.4" y1="247.3" x2="105.4" y2="245.1" stroke="#555" stroke-width="0.8"/>
<line x1="169.5" y1="247.3" x2="169.5" y2="245.1" stroke="#555" stroke-width="0.8"/>
<line x1="233.5" y1="247.3" x2="233.5" y2="245.1" stroke="#555" stroke-width="0.8"/>
<text transform="translate(17.2,213.3) rotate(-89.95)" font-size="13" text-anchor="middle" style="stroke-width:0.06px">RD 10<tspan font-size="9" dy="-5.8">&#8722;3</tspan><tspan dy="5.8"> [m/</tspan><tspan font-style="italic">s</tspan><tspan font-size="8.5" dy="-5">2</tspan><tspan dy="5">]</tspan></text>
<rect x="39.8" y="259.3" width="227.7" height="46" fill="none" stroke="#6e6e6e" stroke-width="1.1"/>
<line x1="39.8" y1="263" x2="267.5" y2="263" stroke="#666666" stroke-width="1.05"/>
<line x1="39.8" y1="298.9" x2="267.5" y2="298.9" stroke="#0000dc" stroke-width="2.0"/>
<line x1="39.8" y1="263" x2="42" y2="263" stroke="#555" stroke-width="0.8"/>
<text x="36.2" y="266.3" font-size="10" text-anchor="end" transform="rotate(0.05 36.2 266.3)">2</text>
<line x1="39.8" y1="282.1" x2="42" y2="282.1" stroke="#555" stroke-width="0.8"/>
<text x="36.2" y="285.4" font-size="10" text-anchor="end" transform="rotate(0.05 36.2 285.4)">1</text>
<line x1="39.8" y1="301.2" x2="42" y2="301.2" stroke="#555" stroke-width="0.8"/>
<text x="36.2" y="304.5" font-size="10" text-anchor="end" transform="rotate(0.05 36.2 304.5)">0</text>
<text x="39.8" y="317.4" font-size="10" text-anchor="middle" transform="rotate(0.05 39.8 317.4)">0</text>
<line x1="104.9" y1="305.3" x2="104.9" y2="303.1" stroke="#555" stroke-width="0.8"/>
<text x="104.9" y="317.4" font-size="10" text-anchor="middle" transform="rotate(0.05 104.9 317.4)">1</text>
<line x1="169.9" y1="305.3" x2="169.9" y2="303.1" stroke="#555" stroke-width="0.8"/>
<text x="169.9" y="317.4" font-size="10" text-anchor="middle" transform="rotate(0.05 169.9 317.4)">2</text>
<line x1="235" y1="305.3" x2="235" y2="303.1" stroke="#555" stroke-width="0.8"/>
<text x="235" y="317.4" font-size="10" text-anchor="middle" transform="rotate(0.05 235 317.4)">3</text>
<text transform="translate(16.8,282) rotate(-89.95)" font-size="12" text-anchor="middle" style="stroke-width:0.06px">RR</text>
<text x="154" y="338.8" font-size="11.5" text-anchor="middle" transform="rotate(0.05 154 338.8)" letter-spacing="0.25">t [s]</text>
<rect x="318.9" y="178.1" width="224.7" height="71.6" fill="none" stroke="#6e6e6e" stroke-width="1.1"/>
<line x1="318.9" y1="213.5" x2="543.6" y2="213.5" stroke="#cfcfcf" stroke-width="1"/>
<polyline points="317.9,205.2 318.4,209.1 318.9,213.1 319.4,217 319.9,220.9 320.4,224.7 320.9,228.4 321.4,231.9 321.9,235.1 322.4,238.1 322.9,240.7 323.4,243 323.9,244.9 324.4,246.3 324.9,247.4 325.4,248 325.9,248.1 326.4,247.7 326.9,246.9 327.4,245.6 327.9,243.9 328.4,241.7 328.9,239.1 329.4,236.2 329.9,233 330.4,229.5 330.9,225.8 331.4,221.9 331.9,217.9 332.4,213.8 332.9,209.8 333.4,205.9 333.9,202 334.4,198.4 334.9,195 335.4,191.9 335.9,189.1 336.4,186.7 336.9,184.7 337.4,183.1 337.9,182 338.4,181.4 338.9,181.2 339.4,181.5 339.9,182.4 340.4,183.6 340.9,185.3 341.4,187.4 341.9,190 342.4,192.8 342.9,196 343.4,199.4 343.9,203 344.4,206.8 344.9,210.6 345.4,214.5 345.9,218.4 346.4,222.2 346.9,225.8 347.4,229.3 347.9,232.5 348.4,235.4 348.9,238 349.4,240.2 349.9,242 350.4,243.3 350.9,244.2 351.4,244.7 351.9,244.6 352.4,244.1 352.9,243.2 353.4,241.8 353.9,240.1 354.4,238 354.9,235.5 355.4,232.7 355.9,229.7 356.4,226.4 356.9,223 357.4,219.4 357.9,215.8 358.4,212.2 358.9,208.6 359.4,205.2 359.9,201.9 360.4,198.8 360.9,195.9 361.4,193.4 361.9,191.2 362.4,189.4 362.9,187.9 363.4,186.9 363.9,186.3 364.4,186.2 364.9,186.5 365.4,187.2 365.9,188.2 366.4,189.6 366.9,191.4 367.4,193.5 367.9,195.8 368.4,198.4 368.9,201.2 369.4,204.2 369.9,207.3 370.4,210.5 370.9,213.6 371.4,216.7 371.9,219.8 372.4,222.7 372.9,225.4 373.4,227.9 373.9,230.2 374.4,232.2 374.9,233.8 375.4,235.1 375.9,236 376.4,236.5 376.9,236.6 377.4,236.4 377.9,235.9 378.4,235.2 378.9,234.2 379.4,232.9 379.9,231.4 380.4,229.7 380.9,227.9 381.4,225.8 381.9,223.6 382.4,221.3 382.9,218.9 383.4,216.5 383.9,214.1 384.4,211.7 384.9,209.3 385.4,207 385.9,204.8 386.4,202.7 386.9,200.9 387.4,199.2 387.9,197.7 388.4,196.4 388.9,195.4 389.4,194.7 389.9,194.2 390.4,194 390.9,194.1 391.4,194.4 391.9,195 392.4,195.9 392.9,197 393.4,198.3 393.9,199.9 394.4,201.6 394.9,203.4 395.4,205.4 395.9,207.5 396.4,209.7 396.9,211.9 397.4,214.1 397.9,216.3 398.4,218.4 398.9,220.5 399.4,222.4 399.9,224.2 400.4,225.8 400.9,227.2 401.4,228.4 401.9,229.3 402.4,230.1 402.9,230.5 403.4,230.7 403.9,230.6 404.4,230.4 404.9,229.9 405.4,229.2 405.9,228.4 406.4,227.3 406.9,226.1 407.4,224.8 407.9,223.3 408.4,221.8 408.9,220.1 409.4,218.4 409.9,216.6 410.4,214.8 410.9,213 411.4,211.3 411.9,209.6 412.4,208 412.9,206.5 413.4,205.1 413.9,203.8 414.4,202.7 414.9,201.8 415.4,201.1 415.9,200.5 416.4,200.1 416.9,200 417.4,200 417.9,200.2 418.4,200.5 418.9,201 419.4,201.6 419.9,202.3 420.4,203.1 420.9,204 421.4,205.1 421.9,206.2 422.4,207.4 422.9,208.6 423.4,209.9 423.9,211.2 424.4,212.5 424.9,213.8 425.4,215.1 425.9,216.4 426.4,217.6 426.9,218.8 427.4,219.9 427.9,221 428.4,221.9 428.9,222.7 429.4,223.4 429.9,224 430.4,224.5 430.9,224.8 431.4,225 431.9,225 432.4,224.9 432.9,224.7 433.4,224.3 433.9,223.8 434.4,223.2 434.9,222.4 435.4,221.6 435.9,220.6 436.4,219.6 436.9,218.5 437.4,217.3 437.9,216.1 438.4,214.9 438.9,213.6 439.4,212.4 439.9,211.1 440.4,209.9 440.9,208.8 441.4,207.7 441.9,206.7 442.4,205.8 442.9,204.9 443.4,204.2 443.9,203.6 444.4,203.1 444.9,202.8 445.4,202.6 445.9,202.5 446.4,202.6 446.9,202.8 447.4,203.1 447.9,203.6 448.4,204.2 448.9,204.9 449.4,205.7 449.9,206.6 450.4,207.6 450.9,208.6 451.4,209.7 451.9,210.9 452.4,212 452.9,213.2 453.4,214.4 453.9,215.6 454.4,216.7 454.9,217.7 455.4,218.7 455.9,219.7 456.4,220.5 456.9,221.2 457.4,221.8 457.9,222.3 458.4,222.7 458.9,222.9 459.4,223 459.9,223 460.4,222.8 460.9,222.5 461.4,222 461.9,221.5 462.4,220.8 462.9,220 463.4,219.2 463.9,218.2 464.4,217.2 464.9,216.1 465.4,214.9 465.9,213.8 466.4,212.6 466.9,211.4 467.4,210.3 467.9,209.2 468.4,208.1 468.9,207.1 469.4,206.2 469.9,205.3 470.4,204.6 470.9,204 471.4,203.5 471.9,203.1 472.4,202.8 472.9,202.7 473.4,202.7 473.9,202.9 474.4,203.2 474.9,203.7 475.4,204.3 475.9,205.1 476.4,206 476.9,206.9 477.4,208 477.9,209.2 478.4,210.4 478.9,211.6 479.4,212.9 479.9,214.1 480.4,215.3 480.9,216.5 481.4,217.6 481.9,218.7 482.4,219.6 482.9,220.4 483.4,221.1 483.9,221.7 484.4,222.1 484.9,222.4 485.4,222.5 485.9,222.5 486.4,222.3 486.9,222 487.4,221.6 487.9,221.1 488.4,220.5 488.9,219.8 489.4,219 489.9,218.1 490.4,217.2 490.9,216.2 491.4,215.2 491.9,214.1 492.4,213 492.9,212 493.4,210.9 493.9,209.9 494.4,208.9 494.9,208 495.4,207.2 495.9,206.4 496.4,205.7 496.9,205.2 497.4,204.7 497.9,204.4 498.4,204.1 498.9,204 499.4,204 499.9,204.2 500.4,204.4 500.9,204.8 501.4,205.4 501.9,206 502.4,206.7 502.9,207.5 503.4,208.4 503.9,209.4 504.4,210.4 504.9,211.5 505.4,212.6 505.9,213.7 506.4,214.7 506.9,215.8 507.4,216.8 507.9,217.7 508.4,218.6 508.9,219.4 509.4,220.1 509.9,220.7 510.4,221.1 510.9,221.5 511.4,221.7 511.9,221.8 512.4,221.8 512.9,221.6 513.4,221.4 513.9,221 514.4,220.5 514.9,220 515.4,219.3 515.9,218.6 516.4,217.8 516.9,217 517.4,216.1 517.9,215.2 518.4,214.3 518.9,213.3 519.4,212.4 519.9,211.5 520.4,210.7 520.9,209.8 521.4,209.1 521.9,208.4 522.4,207.8 522.9,207.3 523.4,206.8 523.9,206.5 524.4,206.3 524.9,206.2 525.4,206.2 525.9,206.3 526.4,206.5 526.9,206.8 527.4,207.2 527.9,207.6 528.4,208.1 528.9,208.7 529.4,209.3 529.9,210 530.4,210.8 530.9,211.5 531.4,212.3 531.9,213.1 532.4,213.9 532.9,214.7 533.4,215.4 533.9,216.2 534.4,216.9 534.9,217.5 535.4,218.1 535.9,218.6 536.4,219 536.9,219.4 537.4,219.7 537.9,219.9 538.4,220 538.9,220 539.4,219.9 539.9,219.8 540.4,219.5 540.9,219.2 541.4,218.8 541.9,218.3 542.4,217.8 542.9,217.2 543.4,216.6 543.9,215.9 544.4,215.2" fill="none" stroke="#202020" stroke-width="1.15" stroke-linejoin="round" clip-path="url(#c7)"/>
<polyline points="317.9,215.7 318.4,212.9 318.9,210.1 319.4,207.5 319.9,204.8 320.4,202.4 320.9,200.1 321.4,198 321.9,196.1 322.4,194.5 322.9,193.3 323.4,192.3 323.9,191.6 324.4,191.3 324.9,191.4 325.4,191.7 325.9,192.3 326.4,193.2 326.9,194.4 327.4,195.9 327.9,197.6 328.4,199.5 328.9,201.6 329.4,203.9 329.9,206.3 330.4,208.8 330.9,211.3 331.4,213.9 331.9,216.5 332.4,219 332.9,221.5 333.4,223.8 333.9,226.1 334.4,228.1 334.9,229.9 335.4,231.5 335.9,232.9 336.4,234 336.9,234.8 337.4,235.3 337.9,235.5 338.4,235.4 338.9,235 339.4,234.3 339.9,233.3 340.4,232 340.9,230.4 341.4,228.6 341.9,226.6 342.4,224.4 342.9,222.1 343.4,219.7 343.9,217.2 344.4,214.7 344.9,212.2 345.4,209.7 345.9,207.4 346.4,205.1 346.9,203.1 347.4,201.2 347.9,199.5 348.4,198.1 348.9,197 349.4,196.2 349.9,195.6 350.4,195.4 350.9,195.5 351.4,195.8 351.9,196.4 352.4,197.2 352.9,198.2 353.4,199.5 353.9,201 354.4,202.6 354.9,204.4 355.4,206.3 355.9,208.3 356.4,210.4 356.9,212.5 357.4,214.6 357.9,216.7 358.4,218.8 358.9,220.8 359.4,222.7 359.9,224.4 360.4,226 360.9,227.5 361.4,228.7 361.9,229.7 362.4,230.4 362.9,231 363.4,231.3 363.9,231.3 364.4,231 364.9,230.5 365.4,229.8 365.9,228.8 366.4,227.6 366.9,226.2 367.4,224.6 367.9,222.8 368.4,220.9 368.9,218.9 369.4,216.9 369.9,214.8 370.4,212.7 370.9,210.7 371.4,208.7 371.9,206.8 372.4,205 372.9,203.4 373.4,202 373.9,200.8 374.4,199.8 374.9,199.1 375.4,198.6 375.9,198.3 376.4,198.3 376.9,198.6 377.4,199 377.9,199.6 378.4,200.3 378.9,201.3 379.4,202.4 379.9,203.6 380.4,205 380.9,206.4 381.4,208 381.9,209.6 382.4,211.2 382.9,212.9 383.4,214.6 383.9,216.2 384.4,217.8 384.9,219.3 385.4,220.7 385.9,221.9 386.4,223.1 386.9,224.1 387.4,225 387.9,225.6 388.4,226.1 388.9,226.4 389.4,226.5 389.9,226.4 390.4,226.2 390.9,225.7 391.4,225.2 391.9,224.4 392.4,223.5 392.9,222.5 393.4,221.4 393.9,220.2 394.4,218.9 394.9,217.6 395.4,216.2 395.9,214.8 396.4,213.3 396.9,211.9 397.4,210.6 397.9,209.3 398.4,208.1 398.9,207 399.4,206 399.9,205.1 400.4,204.3 400.9,203.8 401.4,203.3 401.9,203.1 402.4,203 402.9,203.1 403.4,203.2 403.9,203.5 404.4,203.9 404.9,204.4 405.4,205.1 405.9,205.8 406.4,206.5 406.9,207.4 407.4,208.3 407.9,209.3 408.4,210.3 408.9,211.4 409.4,212.4 409.9,213.5 410.4,214.6 410.9,215.6 411.4,216.6 411.9,217.5 412.4,218.4 412.9,219.2 413.4,219.9 413.9,220.5 414.4,221.1 414.9,221.5 415.4,221.8 415.9,222 416.4,222.1 416.9,222.1 417.4,222 417.9,221.8 418.4,221.5 418.9,221.2 419.4,220.7 419.9,220.2 420.4,219.7 420.9,219.1 421.4,218.4 421.9,217.7 422.4,216.9 422.9,216.2 423.4,215.4 423.9,214.6 424.4,213.7 424.9,212.9 425.4,212.1 425.9,211.4 426.4,210.6 426.9,209.9 427.4,209.2 427.9,208.6 428.4,208.1 428.9,207.6 429.4,207.1 429.9,206.8 430.4,206.5 430.9,206.3 431.4,206.2 431.9,206.2 432.4,206.3 432.9,206.4 433.4,206.7 433.9,207.1 434.4,207.5 434.9,208.1 435.4,208.7 435.9,209.4 436.4,210.1 436.9,210.9 437.4,211.7 437.9,212.5 438.4,213.4 438.9,214.2 439.4,215 439.9,215.8 440.4,216.5 440.9,217.3 441.4,217.9 441.9,218.5 442.4,218.9 442.9,219.3 443.4,219.7 443.9,219.9 444.4,220 444.9,220 445.4,219.9 445.9,219.8 446.4,219.6 446.9,219.3 447.4,218.9 447.9,218.5 448.4,218 448.9,217.4 449.4,216.9 449.9,216.2 450.4,215.6 450.9,214.9 451.4,214.2 451.9,213.5 452.4,212.8 452.9,212.1 453.4,211.4 453.9,210.8 454.4,210.2 454.9,209.6 455.4,209.1 455.9,208.7 456.4,208.3 456.9,208 457.4,207.7 457.9,207.5 458.4,207.4 458.9,207.4 459.4,207.5 459.9,207.6 460.4,207.8 460.9,208.1 461.4,208.5 461.9,209 462.4,209.5 462.9,210.1 463.4,210.7 463.9,211.3 464.4,212 464.9,212.7 465.4,213.4 465.9,214.1 466.4,214.8 466.9,215.5 467.4,216.2 467.9,216.8 468.4,217.3 468.9,217.8 469.4,218.3 469.9,218.6 470.4,218.9 470.9,219.1 471.4,219.3 471.9,219.3 472.4,219.3 472.9,219.1 473.4,218.9 473.9,218.6 474.4,218.2 474.9,217.7 475.4,217.2 475.9,216.6 476.4,215.9 476.9,215.2 477.4,214.5 477.9,213.8 478.4,213.1 478.9,212.3 479.4,211.6 479.9,210.9 480.4,210.3 480.9,209.7 481.4,209.2 481.9,208.7 482.4,208.4 482.9,208.1 483.4,207.9 483.9,207.7 484.4,207.7 484.9,207.8 485.4,207.9 485.9,208.1 486.4,208.3 486.9,208.7 487.4,209 487.9,209.5 488.4,210 488.9,210.5 489.4,211.1 489.9,211.7 490.4,212.3 490.9,212.9 491.4,213.5 491.9,214.2 492.4,214.8 492.9,215.4 493.4,215.9 493.9,216.4 494.4,216.9 494.9,217.3 495.4,217.7 495.9,218 496.4,218.3 496.9,218.5 497.4,218.6 497.9,218.6 498.4,218.6 498.9,218.5 499.4,218.3 499.9,218 500.4,217.7 500.9,217.3 501.4,216.9 501.9,216.4 502.4,215.9 502.9,215.3 503.4,214.7 503.9,214.1 504.4,213.5 504.9,212.8 505.4,212.2 505.9,211.6 506.4,211.1 506.9,210.5 507.4,210 507.9,209.6 508.4,209.2 508.9,208.8 509.4,208.6 509.9,208.4 510.4,208.3 510.9,208.2 511.4,208.2 511.9,208.3 512.4,208.4 512.9,208.6 513.4,208.8 513.9,209.1 514.4,209.4 514.9,209.7 515.4,210.1 515.9,210.5 516.4,211 516.9,211.4 517.4,211.9 517.9,212.4 518.4,212.8 518.9,213.3 519.4,213.8 519.9,214.2 520.4,214.6 520.9,215.1 521.4,215.4 521.9,215.8 522.4,216 522.9,216.3 523.4,216.5 523.9,216.6 524.4,216.7 524.9,216.8 525.4,216.8 525.9,216.7 526.4,216.6 526.9,216.5 527.4,216.3 527.9,216.1 528.4,215.8 528.9,215.6 529.4,215.2 529.9,214.9 530.4,214.5 530.9,214.1 531.4,213.7 531.9,213.3 532.4,212.9 532.9,212.5 533.4,212.1 533.9,211.7 534.4,211.3 534.9,211 535.4,210.6 535.9,210.4 536.4,210.1 536.9,209.9 537.4,209.7 537.9,209.6 538.4,209.5 538.9,209.4 539.4,209.4 539.9,209.5 540.4,209.6 540.9,209.7 541.4,209.9 541.9,210.2 542.4,210.5 542.9,210.8 543.4,211.1 543.9,211.5 544.4,212" fill="none" stroke="#d81e2c" stroke-width="1.15" stroke-linejoin="round" clip-path="url(#c7)"/>
<text x="521.1" y="189.9" font-size="8.4" text-anchor="start" transform="rotate(0.05 521.1 189.9)" style="stroke-width:0.3px">HR</text>
<line x1="318.9" y1="190" x2="321.1" y2="190" stroke="#555" stroke-width="0.8"/>
<text x="315.3" y="193.3" font-size="10" text-anchor="end" transform="rotate(0.05 315.3 193.3)">5</text>
<line x1="318.9" y1="213.6" x2="321.1" y2="213.6" stroke="#555" stroke-width="0.8"/>
<text x="315.3" y="216.9" font-size="10" text-anchor="end" transform="rotate(0.05 315.3 216.9)">0</text>
<line x1="318.9" y1="237.4" x2="321.1" y2="237.4" stroke="#555" stroke-width="0.8"/>
<text x="315.3" y="240.7" font-size="10" text-anchor="end" transform="rotate(0.05 315.3 240.7)">&#8722;5</text>
<line x1="345.3" y1="249.7" x2="345.3" y2="247.5" stroke="#555" stroke-width="0.8"/>
<line x1="371.8" y1="249.7" x2="371.8" y2="247.5" stroke="#555" stroke-width="0.8"/>
<line x1="398.2" y1="249.7" x2="398.2" y2="247.5" stroke="#555" stroke-width="0.8"/>
<line x1="424.6" y1="249.7" x2="424.6" y2="247.5" stroke="#555" stroke-width="0.8"/>
<line x1="451.1" y1="249.7" x2="451.1" y2="247.5" stroke="#555" stroke-width="0.8"/>
<line x1="477.5" y1="249.7" x2="477.5" y2="247.5" stroke="#555" stroke-width="0.8"/>
<line x1="503.9" y1="249.7" x2="503.9" y2="247.5" stroke="#555" stroke-width="0.8"/>
<line x1="530.4" y1="249.7" x2="530.4" y2="247.5" stroke="#555" stroke-width="0.8"/>
<text transform="translate(294.9,213.4) rotate(-89.95)" font-size="13" text-anchor="middle" style="stroke-width:0.06px">RD 10<tspan font-size="9" dy="-5.8">&#8722;5</tspan><tspan dy="5.8"> [m/</tspan><tspan font-style="italic">s</tspan><tspan font-size="8.5" dy="-5">2</tspan><tspan dy="5">]</tspan></text>
<rect x="316.8" y="258.2" width="227.4" height="45.2" fill="none" stroke="#6e6e6e" stroke-width="1.1"/>
<line x1="316.8" y1="262" x2="544.2" y2="262" stroke="#666666" stroke-width="1.05"/>
<polyline points="316.8,299.6 343,299.8 370,299.6 385,298.5 396,298.1 410,298.5 423,299.6 435,299.8 441,299.7 446,299.5 450,299.1 453,298.5 456,297.5 460,295.9 463,294.9 465.5,294.4 468,294.5 475,295.3 485,296.6 490,297.2 503,298.1 520,299.2 530,299.8 535,299.8 544.2,299.2" fill="none" stroke="#0000dc" stroke-width="2.0" stroke-linejoin="round" clip-path="url(#c8)"/>
<line x1="316.8" y1="262" x2="319" y2="262" stroke="#555" stroke-width="0.8"/>
<text x="313.2" y="265.3" font-size="10" text-anchor="end" transform="rotate(0.05 313.2 265.3)">2</text>
<line x1="316.8" y1="281.1" x2="319" y2="281.1" stroke="#555" stroke-width="0.8"/>
<text x="313.2" y="284.4" font-size="10" text-anchor="end" transform="rotate(0.05 313.2 284.4)">1</text>
<line x1="316.8" y1="300" x2="319" y2="300" stroke="#555" stroke-width="0.8"/>
<text x="313.2" y="303.3" font-size="10" text-anchor="end" transform="rotate(0.05 313.2 303.3)">0</text>
<text x="316.8" y="315.9" font-size="10" text-anchor="middle" transform="rotate(0.05 316.8 315.9)">0</text>
<line x1="343.6" y1="303.4" x2="343.6" y2="301.2" stroke="#555" stroke-width="0.8"/>
<text x="343.6" y="315.9" font-size="10" text-anchor="middle" transform="rotate(0.05 343.6 315.9)">1</text>
<line x1="370.3" y1="303.4" x2="370.3" y2="301.2" stroke="#555" stroke-width="0.8"/>
<text x="370.3" y="315.9" font-size="10" text-anchor="middle" transform="rotate(0.05 370.3 315.9)">2</text>
<line x1="397.1" y1="303.4" x2="397.1" y2="301.2" stroke="#555" stroke-width="0.8"/>
<text x="397.1" y="315.9" font-size="10" text-anchor="middle" transform="rotate(0.05 397.1 315.9)">3</text>
<line x1="423.8" y1="303.4" x2="423.8" y2="301.2" stroke="#555" stroke-width="0.8"/>
<text x="423.8" y="315.9" font-size="10" text-anchor="middle" transform="rotate(0.05 423.8 315.9)">4</text>
<line x1="450.6" y1="303.4" x2="450.6" y2="301.2" stroke="#555" stroke-width="0.8"/>
<text x="450.6" y="315.9" font-size="10" text-anchor="middle" transform="rotate(0.05 450.6 315.9)">5</text>
<line x1="477.3" y1="303.4" x2="477.3" y2="301.2" stroke="#555" stroke-width="0.8"/>
<text x="477.3" y="315.9" font-size="10" text-anchor="middle" transform="rotate(0.05 477.3 315.9)">6</text>
<line x1="504.1" y1="303.4" x2="504.1" y2="301.2" stroke="#555" stroke-width="0.8"/>
<text x="504.1" y="315.9" font-size="10" text-anchor="middle" transform="rotate(0.05 504.1 315.9)">7</text>
<line x1="530.8" y1="303.4" x2="530.8" y2="301.2" stroke="#555" stroke-width="0.8"/>
<text x="530.8" y="315.9" font-size="10" text-anchor="middle" transform="rotate(0.05 530.8 315.9)">8</text>
<text transform="translate(294,280.7) rotate(-89.95)" font-size="12" text-anchor="middle" style="stroke-width:0.06px">RR</text>
<text x="430.6" y="337.2" font-size="11.5" text-anchor="middle" transform="rotate(0.05 430.6 337.2)" letter-spacing="0.25">t [s]</text>
<line x1="177.7" y1="354.2" x2="192.8" y2="354.2" stroke="#202020" stroke-width="2.3"/>
<text x="195.2" y="356.6" font-size="8.2" text-anchor="start" transform="rotate(0.05 195.2 356.6)" style="stroke-width:0.08px">Corner A<tspan dx="0.9">&#8722;</tspan><tspan dx="0.9">C</tspan></text>
<line x1="252.8" y1="354.2" x2="267.8" y2="354.2" stroke="#d81e2c" stroke-width="2.3"/>
<text x="270.9" y="356.6" font-size="8.2" text-anchor="start" transform="rotate(0.05 270.9 356.6)" style="stroke-width:0.08px">Corner B<tspan dx="0.9">&#8722;</tspan><tspan dx="0.9">D</tspan></text>
<line x1="177.7" y1="366.6" x2="193" y2="366.6" stroke="#666666" stroke-width="2.3"/>
<text x="195.8" y="369.2" font-size="8.2" text-anchor="start" transform="rotate(0.05 195.8 369.2)" style="stroke-width:0.08px">1st mode shape (AB) direction</text>
<line x1="304.7" y1="366.6" x2="319.6" y2="366.6" stroke="#0000dc" stroke-width="2.3"/>
<text x="321.9" y="369.2" font-size="8.2" text-anchor="start" transform="rotate(0.05 321.9 369.2)" style="stroke-width:0.08px">2nd mode shape direction</text>
</svg>
</body></html>
